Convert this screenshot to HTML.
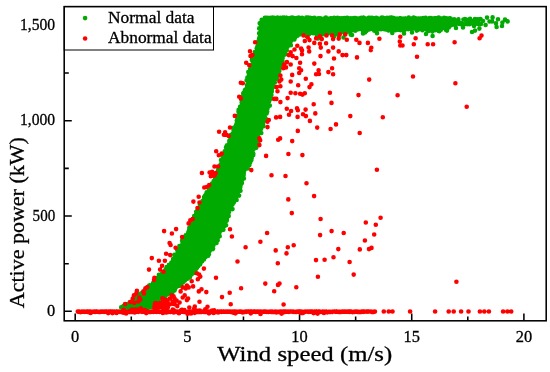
<!DOCTYPE html>
<html lang="en">
<head>
<meta charset="utf-8">
<title>Wind speed vs active power</title>
<style>
html,body{margin:0;padding:0;background:#fff;}
body{width:550px;height:372px;overflow:hidden;}
svg{display:block;}
text{font-family:"Liberation Serif", "DejaVu Serif", serif;fill:#000;stroke:#000;stroke-width:0.3px;}
</style>
</head>
<body>
<svg width="550" height="372" viewBox="0 0 550 372">
<rect width="550" height="372" fill="#fff"/>
<g fill="none" stroke="#000" stroke-width="1.55">
<path d="M75.20 320.80V313.60M187.38 320.80V313.60M299.55 320.80V313.60M411.72 320.80V313.60M523.90 320.80V313.60M131.29 320.80V316.50M243.46 320.80V316.50M355.64 320.80V316.50M467.81 320.80V316.50M64.20 311.30H71.80M64.20 216.00H71.80M64.20 120.70H71.80M64.20 25.40H71.80M64.20 263.65H68.80M64.20 168.35H68.80M64.20 73.05H68.80"/>
</g>
<g id="normal">
<polygon points="264.8,20.0 263.4,22.0 263.2,24.0 263.0,26.0 262.8,28.0 262.6,30.0 262.4,32.0 262.2,34.0 261.8,36.0 261.3,38.0 260.8,40.0 260.3,42.0 259.8,44.0 259.2,46.0 258.7,48.0 258.2,50.0 257.7,52.0 257.1,54.0 256.6,56.0 256.0,58.0 255.4,60.0 254.8,62.0 254.2,64.0 253.6,66.0 253.0,68.0 252.5,70.0 251.9,72.0 251.4,74.0 250.9,76.0 250.4,78.0 249.9,80.0 249.4,82.0 248.9,84.0 248.5,86.0 248.0,88.0 247.5,90.0 247.0,92.0 246.6,94.0 246.1,96.0 245.7,98.0 245.2,100.0 244.6,102.0 243.9,104.0 243.3,106.0 242.6,108.0 242.0,110.0 241.3,112.0 240.7,114.0 240.0,116.0 239.4,118.0 238.7,120.0 238.0,122.0 237.4,124.0 236.7,126.0 236.0,128.0 235.4,130.0 234.7,132.0 234.0,134.0 233.4,136.0 232.7,138.0 232.0,140.0 231.3,142.0 230.6,144.0 229.9,146.0 229.2,148.0 228.5,150.0 227.8,152.0 226.9,154.0 226.0,156.0 225.0,158.0 224.1,160.0 223.3,162.0 222.6,164.0 221.8,166.0 221.1,168.0 220.2,170.0 219.4,172.0 218.5,174.0 217.6,176.0 216.8,178.0 215.9,180.0 214.9,182.0 213.8,184.0 212.8,186.0 211.8,188.0 210.7,190.0 209.5,192.0 208.3,194.0 207.2,196.0 206.2,198.0 205.4,200.0 204.6,202.0 203.7,204.0 202.9,206.0 201.9,208.0 200.8,210.0 199.7,212.0 198.6,214.0 197.6,216.0 196.7,218.0 195.7,220.0 194.8,222.0 193.8,224.0 192.9,226.0 191.9,228.0 191.0,230.0 190.0,232.0 189.1,234.0 188.1,236.0 187.2,238.0 186.1,240.0 185.0,242.0 183.9,244.0 182.8,246.0 181.7,248.0 180.5,250.0 179.4,252.0 178.3,254.0 177.2,256.0 176.1,258.0 175.0,260.0 173.3,262.0 171.6,264.0 169.9,266.0 168.2,268.0 166.5,270.0 164.8,272.0 163.0,274.0 161.3,276.0 159.6,278.0 157.9,280.0 155.9,282.0 153.7,284.0 151.6,286.0 149.4,288.0 147.2,290.0 145.1,292.0 142.9,294.0 140.8,296.0 138.6,298.0 135.2,300.0 131.9,302.0 128.5,304.0 125.2,306.0 147.0,308.0 149.8,306.0 152.7,304.0 155.5,302.0 158.4,300.0 161.2,298.0 164.1,296.0 166.9,294.0 169.6,292.0 172.0,290.0 174.4,288.0 176.8,286.0 179.2,284.0 181.5,282.0 183.9,280.0 186.0,278.0 187.8,276.0 189.7,274.0 191.5,272.0 193.4,270.0 195.2,268.0 197.0,266.0 198.8,264.0 200.2,262.0 201.7,260.0 203.1,258.0 204.6,256.0 206.0,254.0 207.5,252.0 208.9,250.0 210.1,248.0 211.2,246.0 212.3,244.0 213.4,242.0 214.5,240.0 215.5,238.0 216.6,236.0 217.8,234.0 218.9,232.0 220.0,230.0 221.2,228.0 222.3,226.0 223.1,224.0 223.9,222.0 224.7,220.0 225.4,218.0 226.2,216.0 227.0,214.0 227.8,212.0 228.6,210.0 229.3,208.0 230.0,206.0 230.7,204.0 231.7,202.0 233.0,200.0 234.3,198.0 235.4,196.0 236.1,194.0 236.8,192.0 237.6,190.0 238.3,188.0 239.1,186.0 239.8,184.0 240.3,182.0 240.7,180.0 241.2,178.0 241.6,176.0 242.1,174.0 242.6,172.0 243.3,170.0 244.3,168.0 245.3,166.0 246.4,164.0 247.4,162.0 248.3,160.0 249.0,158.0 249.7,156.0 250.4,154.0 251.2,152.0 251.9,150.0 252.6,148.0 253.2,146.0 253.9,144.0 254.6,142.0 255.3,140.0 255.9,138.0 256.6,136.0 257.3,134.0 257.9,132.0 258.6,130.0 259.2,128.0 259.9,126.0 260.6,124.0 261.2,122.0 261.9,120.0 262.5,118.0 263.2,116.0 263.9,114.0 264.4,112.0 265.0,110.0 265.5,108.0 266.1,106.0 266.7,104.0 267.2,102.0 267.8,100.0 268.3,98.0 268.9,96.0 269.4,94.0 270.0,92.0 270.5,90.0 271.0,88.0 271.5,86.0 272.1,84.0 272.6,82.0 273.1,80.0 273.6,78.0 274.1,76.0 274.8,74.0 275.5,72.0 276.3,70.0 277.0,68.0 277.8,66.0 278.5,64.0 279.2,62.0 280.0,60.0 280.7,58.0 281.5,56.0 282.2,54.0 283.4,52.0 284.6,50.0 285.7,48.0 286.9,46.0 288.1,44.0 289.3,42.0 290.6,40.0 293.0,38.0 295.3,36.0" fill="#00aa00"/>
<path d="M266.2 18.0h0M265.3 19.1h0M264.2 20.2h0M262.9 21.3h0M262.6 22.4h0M262.8 23.5h0M262.3 24.6h0M262.6 25.7h0M262.4 26.8h0M262.2 27.9h0M262.0 29.0h0M261.9 30.1h0M261.7 31.2h0M261.7 32.3h0M261.7 33.4h0M261.6 34.5h0M297.8 34.5h0M261.5 35.6h0M296.4 35.6h0M261.3 36.7h0M294.9 36.7h0M260.6 37.8h0M293.8 37.8h0M260.3 38.9h0M292.3 38.9h0M260.2 40.0h0M291.2 40.0h0M260.1 41.1h0M290.5 41.1h0M259.6 42.2h0M289.8 42.2h0M259.2 43.3h0M288.9 43.3h0M258.9 44.4h0M288.6 44.4h0M258.6 45.5h0M287.8 45.5h0M258.2 46.6h0M287.3 46.6h0M258.0 47.7h0M286.4 47.7h0M258.1 48.8h0M285.9 48.8h0M257.8 49.9h0M285.3 49.9h0M257.5 51.0h0M284.4 51.0h0M257.1 52.1h0M283.9 52.1h0M256.9 53.2h0M283.2 53.2h0M256.5 54.3h0M282.5 54.3h0M256.1 55.4h0M282.2 55.4h0M255.6 56.5h0M282.1 56.5h0M255.4 57.6h0M281.7 57.6h0M255.2 58.7h0M281.1 58.7h0M254.9 59.8h0M280.8 59.8h0M254.3 60.9h0M280.2 60.9h0M254.1 62.0h0M279.8 62.0h0M253.7 63.1h0M279.7 63.1h0M253.4 64.2h0M279.1 64.2h0M253.1 65.3h0M278.8 65.3h0M253.0 66.4h0M278.0 66.4h0M252.8 67.5h0M278.0 67.5h0M252.5 68.6h0M277.4 68.6h0M251.8 69.7h0M276.8 69.7h0M251.8 70.8h0M276.6 70.8h0M251.1 71.9h0M276.4 71.9h0M251.1 73.0h0M275.8 73.0h0M250.7 74.1h0M275.3 74.1h0M250.3 75.2h0M274.7 75.2h0M250.4 76.3h0M274.6 76.3h0M250.0 77.4h0M274.3 77.4h0M249.8 78.5h0M273.8 78.5h0M249.3 79.6h0M273.6 79.6h0M249.0 80.7h0M273.7 80.7h0M249.0 81.8h0M273.2 81.8h0M248.6 82.9h0M273.1 82.9h0M248.3 84.0h0M272.7 84.0h0M248.2 85.1h0M272.3 85.1h0M247.8 86.2h0M272.2 86.2h0M247.8 87.3h0M271.6 87.3h0M247.5 88.4h0M271.3 88.4h0M247.1 89.5h0M271.4 89.5h0M246.6 90.6h0M270.9 90.6h0M246.7 91.7h0M270.4 91.7h0M246.3 92.8h0M270.5 92.8h0M246.0 93.9h0M270.2 93.9h0M245.6 95.0h0M269.6 95.0h0M245.4 96.1h0M269.3 96.1h0M245.2 97.2h0M269.4 97.2h0M245.0 98.3h0M268.8 98.3h0M244.6 99.4h0M268.8 99.4h0M244.4 100.5h0M268.5 100.5h0M244.1 101.6h0M268.0 101.6h0M243.9 102.7h0M267.8 102.7h0M243.4 103.8h0M267.3 103.8h0M243.2 104.9h0M267.0 104.9h0M242.9 106.0h0M266.5 106.0h0M242.3 107.1h0M266.4 107.1h0M242.2 108.2h0M266.0 108.2h0M241.7 109.3h0M265.9 109.3h0M241.3 110.4h0M265.5 110.4h0M241.1 111.5h0M265.1 111.5h0M240.5 112.6h0M264.7 112.6h0M239.9 113.7h0M264.4 113.7h0M240.0 114.8h0M264.4 114.8h0M239.3 115.9h0M263.9 115.9h0M239.1 117.0h0M263.5 117.0h0M238.8 118.1h0M263.0 118.1h0M238.6 119.2h0M262.7 119.2h0M238.1 120.3h0M262.5 120.3h0M237.5 121.4h0M261.8 121.4h0M237.2 122.5h0M261.8 122.5h0M237.1 123.6h0M261.4 123.6h0M236.3 124.7h0M261.1 124.7h0M236.3 125.8h0M260.8 125.8h0M235.8 126.9h0M260.4 126.9h0M235.2 128.0h0M259.6 128.0h0M234.8 129.1h0M259.4 129.1h0M234.6 130.2h0M259.0 130.2h0M234.4 131.3h0M258.5 131.3h0M234.0 132.4h0M258.2 132.4h0M233.7 133.5h0M257.8 133.5h0M233.1 134.6h0M257.9 134.6h0M232.9 135.7h0M257.4 135.7h0M232.6 136.8h0M257.0 136.8h0M232.0 137.9h0M256.6 137.9h0M231.5 139.0h0M256.3 139.0h0M231.6 140.1h0M256.0 140.1h0M230.8 141.2h0M255.4 141.2h0M230.6 142.3h0M254.9 142.3h0M230.3 143.4h0M254.9 143.4h0M229.8 144.5h0M254.5 144.5h0M229.6 145.6h0M253.8 145.6h0M229.2 146.7h0M253.8 146.7h0M228.6 147.8h0M253.3 147.8h0M228.4 148.9h0M252.9 148.9h0M227.7 150.0h0M252.6 150.0h0M227.6 151.1h0M252.3 151.1h0M227.3 152.2h0M251.6 152.2h0M226.8 153.3h0M251.5 153.3h0M226.3 154.4h0M250.7 154.4h0M225.4 155.5h0M250.6 155.5h0M224.9 156.6h0M250.1 156.6h0M224.8 157.7h0M249.6 157.7h0M223.9 158.8h0M249.3 158.8h0M223.6 159.9h0M248.7 159.9h0M223.1 161.0h0M248.3 161.0h0M222.8 162.1h0M248.1 162.1h0M222.2 163.2h0M247.3 163.2h0M221.9 164.3h0M246.7 164.3h0M221.3 165.4h0M246.2 165.4h0M221.0 166.5h0M245.5 166.5h0M220.8 167.6h0M245.2 167.6h0M220.1 168.7h0M244.4 168.7h0M219.8 169.8h0M243.8 169.8h0M219.0 170.9h0M243.3 170.9h0M218.5 172.0h0M243.4 172.0h0M218.2 173.1h0M242.8 173.1h0M218.0 174.2h0M242.7 174.2h0M217.2 175.3h0M242.4 175.3h0M217.1 176.4h0M242.1 176.4h0M216.5 177.5h0M241.7 177.5h0M216.0 178.6h0M241.8 178.6h0M215.6 179.7h0M241.5 179.7h0M214.8 180.8h0M240.9 180.8h0M214.3 181.9h0M241.0 181.9h0M213.6 183.0h0M240.5 183.0h0M213.2 184.1h0M240.5 184.1h0M212.8 185.2h0M239.8 185.2h0M211.9 186.3h0M239.7 186.3h0M211.6 187.4h0M239.3 187.4h0M211.2 188.5h0M239.0 188.5h0M210.5 189.6h0M238.5 189.6h0M209.6 190.7h0M238.0 190.7h0M208.9 191.8h0M237.6 191.8h0M208.5 192.9h0M237.2 192.9h0M207.7 194.0h0M236.6 194.0h0M207.1 195.1h0M236.1 195.1h0M206.6 196.2h0M235.9 196.2h0M205.8 197.3h0M235.4 197.3h0M205.6 198.4h0M234.6 198.4h0M205.2 199.5h0M234.1 199.5h0M204.5 200.6h0M233.0 200.6h0M204.2 201.7h0M232.7 201.7h0M203.4 202.8h0M231.8 202.8h0M203.3 203.9h0M231.5 203.9h0M202.5 205.0h0M230.7 205.0h0M202.5 206.1h0M230.3 206.1h0M201.6 207.2h0M230.2 207.2h0M201.1 208.3h0M229.9 208.3h0M200.4 209.4h0M229.6 209.4h0M199.8 210.5h0M229.1 210.5h0M199.1 211.6h0M228.6 211.6h0M198.5 212.7h0M228.0 212.7h0M198.0 213.8h0M227.8 213.8h0M197.5 214.9h0M227.0 214.9h0M197.3 216.0h0M227.0 216.0h0M196.7 217.1h0M226.3 217.1h0M195.9 218.2h0M225.8 218.2h0M195.3 219.3h0M225.3 219.3h0M194.9 220.4h0M224.9 220.4h0M194.2 221.5h0M224.9 221.5h0M193.9 222.6h0M224.1 222.6h0M193.4 223.7h0M223.7 223.7h0M192.8 224.8h0M223.3 224.8h0M192.3 225.9h0M223.0 225.9h0M191.8 227.0h0M222.3 227.0h0M191.4 228.1h0M221.9 228.1h0M190.6 229.2h0M220.9 229.2h0M190.0 230.3h0M220.7 230.3h0M189.9 231.4h0M219.7 231.4h0M189.4 232.5h0M219.1 232.5h0M188.7 233.6h0M218.6 233.6h0M188.4 234.7h0M217.7 234.7h0M187.5 235.8h0M217.4 235.8h0M186.9 236.9h0M216.6 236.9h0M186.6 238.0h0M216.3 238.0h0M186.1 239.1h0M215.7 239.1h0M185.5 240.2h0M215.0 240.2h0M184.9 241.3h0M214.4 241.3h0M184.3 242.4h0M213.6 242.4h0M183.4 243.5h0M213.3 243.5h0M182.8 244.6h0M212.7 244.6h0M182.4 245.7h0M211.8 245.7h0M181.9 246.8h0M211.2 246.8h0M181.1 247.9h0M210.5 247.9h0M180.7 249.0h0M210.2 249.0h0M180.0 250.1h0M209.3 250.1h0M179.4 251.2h0M208.7 251.2h0M178.7 252.3h0M208.1 252.3h0M178.0 253.4h0M207.0 253.4h0M177.5 254.5h0M206.4 254.5h0M176.8 255.6h0M205.5 255.6h0M176.1 256.7h0M204.7 256.7h0M175.8 257.8h0M203.6 257.8h0M175.1 258.9h0M202.8 258.9h0M174.6 260.0h0M202.3 260.0h0M173.4 261.1h0M201.6 261.1h0M172.5 262.2h0M200.8 262.2h0M171.4 263.3h0M199.9 263.3h0M170.7 264.4h0M199.3 264.4h0M169.5 265.5h0M198.1 265.5h0M168.8 266.6h0M197.1 266.6h0M167.6 267.7h0M196.1 267.7h0M166.7 268.8h0M194.9 268.8h0M166.1 269.9h0M193.9 269.9h0M165.0 271.0h0M193.2 271.0h0M164.2 272.1h0M192.1 272.1h0M163.3 273.2h0M191.0 273.2h0M162.3 274.3h0M190.2 274.3h0M161.3 275.4h0M189.1 275.4h0M160.3 276.5h0M188.0 276.5h0M159.3 277.6h0M187.1 277.6h0M158.4 278.7h0M186.0 278.7h0M157.6 279.8h0M184.8 279.8h0M156.4 280.9h0M183.6 280.9h0M155.2 282.0h0M182.3 282.0h0M154.2 283.1h0M180.8 283.1h0M153.0 284.2h0M179.3 284.2h0M151.7 285.3h0M178.4 285.3h0M150.6 286.4h0M176.9 286.4h0M149.4 287.5h0M175.7 287.5h0M148.2 288.6h0M174.2 288.6h0M146.8 289.7h0M172.9 289.7h0M145.7 290.8h0M171.6 290.8h0M144.8 291.9h0M170.3 291.9h0M143.4 293.0h0M168.9 293.0h0M142.3 294.1h0M167.6 294.1h0M141.2 295.2h0M165.7 295.2h0M139.7 296.3h0M164.4 296.3h0M138.6 297.4h0M162.8 297.4h0M136.9 298.5h0M161.3 298.5h0M135.2 299.6h0M159.5 299.6h0M133.3 300.7h0M157.9 300.7h0M131.8 301.8h0M156.6 301.8h0M129.8 302.9h0M155.0 302.9h0M127.9 304.0h0M153.2 304.0h0M126.1 305.1h0M151.6 305.1h0M124.2 306.2h0M150.3 306.2h0M122.5 307.3h0M148.4 307.3h0M147.1 308.4h0M175.6 254.8h0M226.0 147.4h0M259.6 37.0h0M194.2 216.0h0M244.9 90.0h0M199.9 204.6h0M233.6 127.7h0M202.3 202.8h0M243.2 93.5h0M222.6 156.5h0M218.0 170.4h0M202.5 201.0h0M247.4 77.6h0M137.8 296.6h0M241.7 102.4h0M241.0 107.3h0M243.7 92.9h0M259.1 38.5h0M229.3 141.0h0M183.0 241.7h0M191.0 223.7h0M248.8 75.4h0M253.6 58.5h0M238.5 111.7h0M182.1 240.6h0M222.5 159.8h0M150.1 285.3h0M198.4 208.4h0M204.0 198.1h0M182.7 240.5h0M185.7 235.4h0M237.4 118.2h0M244.0 93.1h0M227.1 145.3h0M221.0 160.1h0M251.9 59.9h0M226.6 146.3h0M200.8 203.6h0M252.6 58.2h0M252.2 58.8h0M250.0 69.1h0M241.7 100.7h0M138.1 296.5h0M261.2 26.4h0M248.7 72.0h0M251.0 66.6h0M223.4 155.8h0M259.7 23.3h0M224.7 151.2h0M251.8 66.0h0M243.2 96.8h0M179.9 247.6h0M248.3 72.1h0M204.1 197.0h0M231.4 136.2h0M230.3 139.5h0M174.3 254.7h0M251.2 65.4h0M149.2 285.5h0M158.6 276.8h0M196.2 211.8h0M259.1 33.3h0M198.6 210.4h0M206.7 192.2h0M182.4 241.8h0M248.1 80.7h0M139.8 294.0h0M158.9 274.7h0M254.8 52.0h0M238.6 109.9h0M259.2 28.4h0M173.2 258.7h0M153.1 283.0h0M125.1 304.6h0M205.1 195.5h0M197.1 211.1h0M195.8 214.7h0M212.0 183.5h0M140.7 293.8h0M206.1 194.4h0M237.5 115.9h0M218.2 167.0h0M260.6 24.4h0M189.3 227.9h0M192.7 219.2h0M229.5 140.5h0M169.0 264.7h0M184.3 237.0h0M237.4 116.1h0M258.3 41.4h0M253.4 57.1h0M248.7 72.2h0M240.1 106.7h0M226.6 148.1h0M148.5 286.7h0M242.8 99.3h0M156.0 278.2h0M196.0 215.3h0M168.8 265.2h0M230.1 135.3h0M261.7 19.9h0M179.4 246.0h0M245.6 89.8h0M253.6 60.1h0M177.1 249.7h0M194.1 217.0h0M246.6 80.3h0M243.4 96.2h0M145.5 290.0h0M242.5 96.5h0M274.8 82.6h0M247.7 168.5h0M243.9 178.5h0M217.6 238.8h0M253.2 155.1h0M277.6 74.4h0M260.3 132.2h0M156.4 303.1h0M217.7 240.2h0M279.4 67.6h0M208.2 255.8h0M263.4 120.6h0M213.1 248.5h0M294.4 39.5h0M193.9 273.0h0M274.7 80.1h0M251.4 160.0h0M228.7 216.0h0M243.7 174.1h0M274.5 81.0h0M278.5 73.8h0M266.6 113.4h0M286.8 50.3h0M271.4 94.9h0M278.8 71.4h0M250.2 162.4h0M261.3 133.0h0M239.1 195.6h0M266.9 112.4h0M290.9 45.2h0M263.2 126.1h0M216.7 241.4h0M269.8 105.6h0M256.9 146.0h0M215.5 241.4h0M255.8 146.6h0M189.9 277.3h0M179.3 285.7h0M265.4 120.5h0M219.7 236.2h0M268.1 104.8h0M276.6 74.0h0M252.4 155.1h0M236.6 199.9h0M174.5 290.5h0M277.8 75.7h0M223.4 229.8h0M249.3 165.3h0M279.0 71.8h0M159.9 300.6h0M226.1 225.2h0M279.3 71.0h0M182.9 282.4h0M281.5 64.0h0M282.5 61.2h0M263.4 126.2h0M172.7 291.1h0M289.8 45.0h0M179.6 285.8h0M233.8 202.4h0M285.6 54.2h0M240.5 190.7h0M250.5 160.8h0M239.5 189.4h0M218.3 236.5h0M226.8 220.6h0M150.7 307.2h0M277.1 78.6h0M205.6 257.1h0M256.2 147.8h0M212.9 249.1h0M187.7 278.6h0M152.1 305.8h0M267.5 108.4h0M251.3 159.2h0M172.4 292.4h0M171.6 293.2h0M258.0 137.4h0M171.6 291.7h0M256.3 146.4h0M257.8 137.9h0M216.3 241.8h0M249.3 164.2h0M251.7 157.9h0M258.6 141.0h0M253.3 153.7h0M278.1 74.0h0M285.2 52.6h0M216.5 241.1h0M239.6 189.5h0M227.0 218.8h0M208.9 254.2h0M271.3 98.6h0M269.6 99.6h0M267.2 111.6h0M265.8 118.7h0M216.5 242.9h0M257.6 137.8h0M263.1 123.9h0M232.5 209.1h0M274.0 86.7h0M280.8 64.9h0M225.2 225.6h0M215.2 241.8h0M264.7 116.6h0M264.9 17.7h0M266.9 18.3h0M268.9 18.2h0M270.6 17.7h0M272.6 17.5h0M274.2 17.7h0M275.7 18.5h0M277.5 17.6h0M279.1 18.2h0M280.5 17.8h0M282.2 18.0h0M284.3 18.0h0M285.9 18.2h0M287.5 18.4h0M290.1 18.0h0M291.3 18.4h0M292.8 18.3h0M294.6 18.2h0M296.4 18.1h0M298.7 17.6h0M300.3 18.0h0M263.7 19.5h0M265.1 19.4h0M267.4 19.2h0M269.1 20.1h0M271.2 20.0h0M272.7 19.3h0M274.6 19.3h0M276.2 20.0h0M277.7 19.6h0M279.0 19.6h0M280.8 19.2h0M282.4 19.9h0M284.9 19.2h0M285.7 19.4h0M287.6 19.3h0M289.7 19.5h0M291.3 19.3h0M293.3 19.4h0M294.7 19.6h0M297.0 19.3h0M298.5 19.4h0M300.4 19.5h0M262.3 21.6h0M264.2 20.8h0M265.3 21.7h0M267.0 21.0h0M269.6 20.7h0M270.5 20.9h0M272.2 21.2h0M274.4 21.0h0M275.6 21.5h0M278.0 21.3h0M279.1 21.2h0M281.3 21.1h0M283.2 21.1h0M284.6 20.8h0M286.3 21.5h0M288.2 21.0h0M290.2 21.4h0M291.4 21.1h0M293.4 20.9h0M295.0 21.4h0M296.6 21.6h0M298.3 21.2h0M299.8 21.6h0M261.7 23.0h0M263.5 23.2h0M265.8 22.3h0M267.6 22.9h0M268.4 22.8h0M270.1 22.8h0M272.0 22.7h0M273.8 22.9h0M276.1 23.2h0M277.3 22.9h0M278.7 22.7h0M281.4 22.4h0M283.0 23.0h0M284.2 23.1h0M285.9 23.2h0M287.5 22.4h0M289.9 22.7h0M291.0 22.8h0M292.9 22.8h0M295.0 23.2h0M296.1 22.9h0M298.8 22.8h0M300.3 22.4h0M262.1 24.5h0M263.8 24.7h0M265.6 24.0h0M267.2 24.1h0M268.4 24.2h0M270.5 24.5h0M272.6 23.9h0M273.6 24.3h0M276.0 24.4h0M277.4 24.7h0M279.3 24.2h0M280.4 24.4h0M283.0 24.5h0M283.9 24.3h0M286.0 24.5h0M287.9 24.9h0M289.4 24.3h0M291.4 24.8h0M293.2 24.4h0M295.1 24.4h0M297.0 24.2h0M297.9 24.7h0M299.8 24.7h0M261.7 26.0h0M262.9 26.3h0M264.6 26.5h0M267.2 25.8h0M268.2 26.4h0M270.3 25.6h0M272.0 25.7h0M273.7 26.1h0M276.0 26.3h0M277.0 26.0h0M279.0 26.5h0M280.4 26.0h0M282.9 25.9h0M284.0 26.1h0M285.8 26.4h0M287.4 25.7h0M289.1 26.2h0M291.1 26.4h0M293.4 26.4h0M294.5 25.5h0M296.4 26.5h0M298.5 25.6h0M300.2 26.4h0M261.9 27.8h0M263.5 27.9h0M264.8 27.2h0M266.9 27.2h0M268.3 28.1h0M270.2 27.6h0M272.4 27.4h0M274.2 28.0h0M275.3 27.4h0M276.8 28.0h0M278.6 27.1h0M281.1 27.7h0M282.6 27.8h0M283.8 27.2h0M286.0 27.2h0M287.7 27.8h0M289.6 27.7h0M290.8 27.3h0M293.4 27.2h0M294.8 27.2h0M296.9 27.3h0M298.2 27.6h0M300.2 28.0h0M261.5 29.0h0M262.6 29.4h0M265.3 28.7h0M266.8 28.9h0M268.3 29.2h0M270.2 29.7h0M272.0 29.1h0M273.8 29.2h0M275.3 29.1h0M277.1 29.0h0M278.6 28.8h0M280.6 29.0h0M282.7 29.5h0M284.0 29.3h0M286.3 29.1h0M287.7 29.1h0M289.6 29.7h0M290.8 29.7h0M293.1 29.5h0M294.9 29.6h0M296.3 29.4h0M298.0 29.2h0M300.2 28.9h0M260.7 31.1h0M263.2 31.0h0M264.5 31.0h0M266.0 31.0h0M268.3 30.9h0M269.9 30.5h0M271.9 30.8h0M273.7 30.7h0M274.8 30.8h0M277.1 31.2h0M279.2 30.4h0M280.8 30.6h0M282.5 30.7h0M283.9 30.8h0M285.9 31.0h0M287.8 31.0h0M289.3 31.0h0M291.0 30.9h0M292.9 30.9h0M294.2 30.8h0M296.2 30.7h0M297.8 31.0h0M300.4 30.7h0M260.6 32.5h0M262.4 32.8h0M264.1 32.3h0M266.3 32.0h0M267.9 32.2h0M270.0 32.9h0M271.5 32.7h0M273.0 32.5h0M275.1 32.2h0M277.2 32.6h0M278.3 32.2h0M280.8 32.9h0M282.4 32.8h0M284.5 32.6h0M285.9 32.1h0M287.4 32.5h0M289.8 32.2h0M291.0 31.9h0M293.1 32.3h0M295.0 32.1h0M296.6 32.6h0M298.2 32.1h0M299.9 32.6h0M260.5 33.6h0M262.5 33.7h0M264.5 34.3h0M266.4 34.3h0M267.8 33.7h0M269.6 34.2h0M271.3 34.2h0M273.1 33.8h0M274.6 34.0h0M276.0 33.8h0M277.5 34.0h0M279.4 33.9h0M281.6 34.2h0M283.1 34.5h0M284.4 34.0h0M286.0 33.9h0M288.5 33.6h0M290.0 34.4h0M291.5 34.3h0M293.1 33.9h0M294.9 33.7h0M296.4 33.8h0M298.8 33.8h0M299.7 34.4h0M260.2 36.1h0M262.6 35.7h0M264.0 35.3h0M265.4 35.2h0M267.4 35.5h0M269.7 35.6h0M271.5 35.8h0M272.4 35.7h0M274.1 35.1h0M276.7 35.4h0M277.6 35.2h0M279.9 35.6h0M281.0 35.8h0M282.9 35.9h0M284.9 35.6h0M286.6 35.8h0M288.9 35.9h0M289.7 35.6h0M291.6 35.2h0M293.3 35.3h0M295.8 35.8h0M297.5 35.8h0M259.9 37.1h0M261.8 37.0h0M263.6 37.5h0M265.0 37.0h0M267.1 37.4h0M269.1 37.4h0M270.3 36.9h0M272.2 37.0h0M274.4 37.7h0M276.1 36.7h0M277.5 37.5h0M279.9 37.3h0M281.1 37.1h0M283.1 37.6h0M284.6 36.9h0M286.0 36.8h0M288.6 37.3h0M290.5 36.8h0M291.6 37.5h0M293.7 36.8h0M295.2 37.3h0M259.9 38.8h0M261.2 39.3h0M263.2 39.0h0M265.1 38.4h0M266.5 38.4h0M268.3 38.5h0M270.3 38.6h0M272.0 39.1h0M273.4 38.4h0M276.0 38.8h0M277.4 38.6h0M279.3 38.5h0M281.4 39.1h0M282.6 38.3h0M284.9 38.6h0M286.5 39.2h0M288.4 39.2h0M289.9 39.1h0M291.6 38.6h0M293.4 38.6h0M259.6 40.7h0M260.6 40.1h0M262.6 40.4h0M264.9 40.8h0M266.6 40.6h0M268.0 40.2h0M269.4 39.9h0M271.5 40.2h0M272.5 40.2h0M274.4 40.6h0M275.8 40.1h0M278.4 40.8h0M279.9 40.5h0M281.1 40.8h0M283.4 40.4h0M284.5 40.1h0M286.4 40.2h0M287.8 40.3h0M289.9 40.2h0M291.5 40.2h0M258.8 42.1h0M260.6 41.7h0M262.7 42.0h0M264.1 42.2h0M266.2 42.3h0M268.0 42.2h0M269.7 41.7h0M271.4 41.8h0M272.8 41.6h0M274.7 41.5h0M276.7 42.2h0M278.6 41.6h0M280.2 42.3h0M281.4 41.7h0M283.4 42.0h0M285.1 42.0h0M287.0 42.2h0M289.0 42.2h0M290.4 42.2h0M258.7 43.8h0M259.8 44.0h0M262.0 43.4h0M263.6 43.6h0M265.4 43.3h0M266.9 43.5h0M269.2 43.5h0M270.2 43.6h0M272.1 43.1h0M274.6 43.4h0M275.9 43.5h0M277.1 44.0h0M279.8 43.3h0M281.0 43.5h0M282.5 43.8h0M284.8 43.9h0M286.4 43.1h0M287.7 43.6h0M289.9 43.5h0M258.0 45.5h0M259.3 45.0h0M261.2 45.7h0M262.9 44.7h0M264.8 45.3h0M266.2 45.5h0M268.0 45.4h0M269.7 45.6h0M271.4 45.4h0M273.8 45.0h0M274.7 45.3h0M276.8 45.2h0M278.8 45.2h0M280.3 45.2h0M281.9 45.1h0M283.3 45.0h0M285.1 44.9h0M287.4 44.8h0M288.5 45.2h0M257.4 46.5h0M259.3 46.8h0M261.4 47.3h0M263.3 46.7h0M264.7 46.7h0M266.3 47.3h0M267.9 46.5h0M270.2 46.9h0M271.6 47.2h0M273.5 46.9h0M275.0 47.2h0M276.8 46.7h0M279.3 47.2h0M281.1 47.1h0M282.2 46.3h0M284.2 46.4h0M286.5 46.3h0M287.7 46.5h0M256.7 48.4h0M258.5 48.8h0M260.9 48.3h0M262.8 48.7h0M264.0 48.7h0M266.4 48.5h0M267.5 48.8h0M269.9 48.2h0M270.8 48.8h0M273.1 48.1h0M274.7 48.2h0M276.8 48.2h0M277.9 47.9h0M279.8 48.9h0M281.4 48.4h0M283.9 47.9h0M284.9 48.7h0M286.5 48.8h0M257.1 49.6h0M258.6 50.1h0M260.4 49.8h0M261.8 49.7h0M263.4 49.7h0M265.8 50.4h0M266.9 50.2h0M268.8 49.8h0M270.4 50.5h0M272.1 50.1h0M274.4 49.8h0M276.0 49.6h0M277.6 50.3h0M279.4 50.5h0M281.0 50.5h0M282.3 50.0h0M284.0 49.6h0M285.9 50.2h0M256.7 51.1h0M258.6 51.3h0M259.7 51.9h0M262.1 51.8h0M263.4 51.6h0M265.7 51.5h0M267.4 51.9h0M268.9 52.0h0M270.6 51.8h0M272.6 51.4h0M274.3 51.7h0M276.1 51.2h0M278.3 52.1h0M279.2 52.0h0M281.5 51.2h0M283.5 51.5h0M285.2 51.9h0M256.0 52.7h0M258.0 53.4h0M259.9 53.0h0M261.5 53.6h0M262.8 53.1h0M264.6 52.7h0M266.2 53.0h0M267.9 53.5h0M269.9 53.3h0M271.5 53.1h0M273.8 53.2h0M275.4 53.1h0M277.1 53.6h0M278.6 53.2h0M280.7 52.8h0M282.8 53.2h0M283.8 53.5h0M255.8 54.9h0M257.7 54.4h0M259.0 55.0h0M261.1 54.9h0M262.6 54.7h0M264.3 54.9h0M266.3 55.1h0M267.9 55.2h0M269.0 55.1h0M271.1 55.1h0M272.7 54.8h0M275.0 54.3h0M276.2 54.8h0M278.5 54.6h0M280.2 54.5h0M281.4 54.9h0M283.5 55.2h0M255.4 56.2h0M257.0 56.5h0M258.4 56.7h0M260.6 56.4h0M262.4 56.0h0M263.4 56.7h0M265.2 56.5h0M267.2 56.0h0M269.1 56.6h0M270.3 56.2h0M272.6 56.8h0M274.4 56.4h0M275.7 56.3h0M277.2 56.4h0M279.0 56.1h0M280.9 56.0h0M282.7 56.6h0M254.7 58.5h0M256.7 58.1h0M258.4 57.9h0M260.0 57.8h0M261.5 58.5h0M263.3 58.0h0M265.2 57.8h0M267.0 57.5h0M268.1 57.7h0M269.8 58.4h0M271.3 57.8h0M273.6 58.2h0M275.5 57.9h0M276.7 58.4h0M278.3 57.6h0M280.1 58.0h0M282.6 58.2h0M254.2 59.6h0M256.0 59.7h0M257.4 59.2h0M258.9 59.9h0M261.1 59.9h0M262.2 60.0h0M264.3 60.0h0M266.2 59.6h0M268.1 59.7h0M269.7 59.3h0M271.4 59.5h0M272.5 59.2h0M274.7 59.4h0M276.7 59.2h0M277.6 60.1h0M279.6 59.6h0M281.3 59.3h0M253.5 61.5h0M254.9 61.5h0M257.5 61.3h0M258.6 60.9h0M260.1 61.0h0M262.5 60.7h0M264.2 61.4h0M265.1 60.8h0M267.5 61.4h0M268.8 61.6h0M270.4 61.1h0M272.0 61.3h0M273.7 60.9h0M276.1 61.2h0M277.7 61.4h0M279.3 60.9h0M281.1 60.8h0M252.9 62.7h0M254.6 62.4h0M256.9 63.0h0M258.5 62.7h0M260.1 62.8h0M262.3 63.2h0M263.6 63.2h0M266.3 62.6h0M267.9 63.1h0M269.6 62.6h0M271.4 63.2h0M272.7 62.8h0M274.4 63.1h0M277.0 62.3h0M278.8 63.0h0M280.0 62.8h0M252.9 64.2h0M254.5 64.9h0M256.4 64.4h0M257.7 64.0h0M260.3 64.6h0M262.1 64.5h0M263.6 64.4h0M265.6 64.2h0M267.1 64.4h0M269.1 64.1h0M270.3 64.0h0M272.2 64.8h0M274.6 64.6h0M276.1 64.0h0M277.9 64.8h0M279.8 64.5h0M252.1 65.7h0M254.2 66.0h0M255.7 65.8h0M257.8 65.8h0M259.5 65.8h0M261.5 65.9h0M263.0 66.4h0M265.0 66.2h0M266.4 66.3h0M268.3 66.5h0M270.6 66.2h0M272.3 66.0h0M274.0 65.6h0M276.1 66.3h0M277.0 65.7h0M279.2 66.3h0M251.4 68.1h0M253.4 68.1h0M255.6 67.6h0M257.0 67.2h0M258.5 67.7h0M261.0 68.0h0M262.3 68.0h0M264.1 68.0h0M266.5 67.3h0M268.2 67.8h0M269.8 67.9h0M271.5 67.6h0M273.1 68.0h0M275.4 67.3h0M277.1 67.4h0M278.2 67.3h0M251.4 69.0h0M252.8 68.8h0M254.7 69.5h0M256.2 69.2h0M258.5 68.7h0M260.0 69.6h0M262.5 69.6h0M263.4 69.5h0M265.5 68.9h0M267.3 69.6h0M269.5 69.1h0M270.4 69.6h0M273.1 69.2h0M274.1 69.2h0M276.4 69.2h0M277.8 68.9h0M250.6 70.3h0M252.4 71.3h0M253.9 71.0h0M256.4 70.7h0M258.0 70.5h0M259.8 71.0h0M261.7 70.8h0M263.7 71.2h0M265.1 71.0h0M266.5 71.2h0M268.7 71.2h0M270.1 71.3h0M271.7 70.8h0M273.4 70.5h0M275.9 70.4h0M277.3 70.5h0M250.7 72.0h0M252.0 72.8h0M254.1 72.6h0M256.1 71.9h0M257.6 72.6h0M259.4 72.6h0M260.5 72.0h0M263.0 72.5h0M264.2 71.9h0M266.2 72.0h0M268.2 72.2h0M270.0 72.0h0M271.5 72.0h0M273.5 72.5h0M274.8 72.9h0M277.0 72.2h0M250.3 73.9h0M252.2 73.8h0M253.9 73.6h0M255.4 73.8h0M256.9 74.1h0M258.2 73.7h0M260.1 74.2h0M261.9 74.0h0M263.8 73.7h0M266.1 74.0h0M267.6 74.2h0M269.5 73.8h0M270.5 74.0h0M272.4 73.5h0M274.9 74.1h0M276.1 73.6h0M249.8 75.6h0M251.0 76.1h0M253.5 76.0h0M255.1 75.6h0M256.3 75.8h0M257.9 75.7h0M259.6 75.1h0M261.9 75.4h0M263.7 75.9h0M265.5 75.7h0M267.3 75.8h0M269.1 76.0h0M270.0 75.4h0M272.0 75.4h0M273.6 76.0h0M275.1 75.3h0M249.4 76.9h0M250.7 77.7h0M252.9 77.1h0M254.0 77.0h0M256.6 77.5h0M257.4 77.4h0M259.5 77.4h0M261.1 76.8h0M262.6 77.0h0M265.2 77.6h0M266.7 77.4h0M268.0 77.1h0M270.4 77.7h0M271.7 77.5h0M273.9 77.7h0M275.0 77.4h0M248.7 78.8h0M250.5 78.6h0M251.8 79.1h0M254.2 79.1h0M255.4 78.5h0M257.6 79.2h0M259.2 78.5h0M261.0 79.3h0M263.0 79.2h0M264.3 78.6h0M266.5 79.1h0M268.2 78.7h0M269.4 78.5h0M271.7 79.2h0M272.9 79.2h0M274.7 78.7h0M248.5 80.1h0M249.9 80.2h0M251.6 80.4h0M253.2 80.7h0M255.0 80.3h0M257.2 80.0h0M258.7 80.5h0M260.6 80.8h0M262.5 80.0h0M264.3 80.4h0M265.9 80.1h0M267.4 80.6h0M269.5 80.7h0M270.6 80.7h0M272.7 80.6h0M274.7 80.3h0M248.5 82.4h0M250.1 81.9h0M251.5 81.7h0M253.5 82.4h0M254.6 82.2h0M256.9 81.5h0M258.8 82.0h0M259.9 81.5h0M262.1 81.8h0M263.6 81.7h0M265.4 81.9h0M267.4 82.2h0M269.0 81.8h0M270.1 82.4h0M272.7 82.1h0M274.4 82.2h0M247.8 83.5h0M249.2 83.6h0M250.8 83.5h0M252.8 83.1h0M254.4 83.4h0M256.4 83.9h0M258.1 83.8h0M259.8 83.4h0M261.3 83.9h0M263.6 83.3h0M264.4 84.1h0M267.0 83.7h0M268.7 83.7h0M270.5 83.3h0M271.8 83.8h0M273.3 83.8h0M247.0 85.4h0M249.3 85.1h0M251.2 85.3h0M252.7 84.7h0M253.8 85.4h0M256.3 85.3h0M258.0 84.8h0M259.7 85.6h0M261.2 85.1h0M263.0 84.9h0M264.7 85.4h0M266.3 85.0h0M267.5 84.9h0M270.0 84.9h0M271.0 84.9h0M273.2 85.3h0M247.2 87.2h0M249.1 87.2h0M250.3 86.4h0M252.5 86.5h0M253.9 86.6h0M255.8 86.5h0M257.1 86.5h0M259.3 86.9h0M260.8 86.6h0M262.1 87.2h0M264.4 87.0h0M266.3 86.9h0M267.2 86.9h0M269.1 86.8h0M271.0 86.9h0M273.1 87.1h0M246.4 88.7h0M248.6 88.7h0M250.0 88.8h0M251.6 88.0h0M253.1 88.6h0M255.0 88.3h0M256.7 88.1h0M258.1 87.9h0M260.4 88.2h0M261.9 88.8h0M263.8 88.7h0M265.7 88.9h0M266.7 88.3h0M269.3 88.4h0M271.0 88.1h0M271.9 88.8h0M246.0 90.0h0M248.3 89.7h0M250.0 89.9h0M251.0 89.7h0M253.0 90.0h0M255.1 89.6h0M256.0 89.7h0M258.2 90.3h0M259.8 90.1h0M261.7 89.5h0M263.0 90.5h0M264.9 90.4h0M266.7 89.7h0M268.0 89.7h0M270.0 89.9h0M271.8 90.0h0M245.7 91.1h0M247.2 92.1h0M248.7 91.8h0M250.9 91.8h0M252.4 91.5h0M254.3 92.0h0M255.9 91.2h0M257.3 92.0h0M259.3 91.2h0M261.3 91.9h0M263.0 91.3h0M264.5 91.4h0M265.8 92.1h0M268.0 91.2h0M270.1 92.1h0M271.8 91.4h0M245.1 93.2h0M247.2 93.6h0M249.3 93.6h0M250.3 93.3h0M251.8 93.2h0M253.5 92.8h0M255.3 93.0h0M257.2 93.4h0M258.6 92.8h0M260.9 93.4h0M262.7 93.4h0M264.4 93.3h0M266.1 92.8h0M267.3 93.4h0M269.0 93.2h0M270.8 93.1h0M245.3 95.0h0M246.6 94.6h0M248.7 95.0h0M250.1 95.2h0M252.0 95.3h0M253.7 95.2h0M255.3 95.0h0M257.3 94.4h0M258.6 94.9h0M259.9 95.1h0M262.3 95.2h0M263.6 94.8h0M265.9 94.7h0M267.5 94.7h0M268.7 94.6h0M270.3 94.7h0M244.3 96.7h0M246.8 96.0h0M247.6 95.9h0M250.2 96.0h0M251.6 96.2h0M252.8 96.1h0M255.0 95.9h0M256.9 96.5h0M258.0 96.1h0M260.1 96.5h0M261.5 96.2h0M263.3 96.8h0M265.1 96.7h0M266.9 96.5h0M268.5 96.6h0M270.2 96.6h0M243.9 97.8h0M246.5 97.9h0M248.2 98.4h0M249.8 97.6h0M251.8 98.2h0M253.2 98.4h0M255.2 97.6h0M256.6 97.7h0M258.9 98.3h0M260.2 97.5h0M262.6 97.9h0M264.2 98.3h0M266.5 98.5h0M268.2 97.5h0M269.4 98.1h0M244.3 99.2h0M245.7 99.5h0M247.4 99.4h0M249.1 99.3h0M250.8 99.7h0M252.9 99.8h0M254.9 100.1h0M256.4 100.0h0M258.3 99.8h0M260.5 99.5h0M262.0 99.7h0M263.5 99.6h0M265.3 99.3h0M267.6 100.1h0M269.8 99.4h0M243.1 101.2h0M245.2 101.1h0M247.3 101.4h0M248.9 101.3h0M250.8 101.4h0M252.9 101.6h0M254.8 101.6h0M255.7 101.2h0M258.2 101.0h0M259.9 100.8h0M261.3 101.1h0M263.0 101.1h0M265.0 101.6h0M266.9 101.1h0M269.2 101.3h0M242.4 102.5h0M244.7 102.5h0M246.0 102.9h0M248.0 102.6h0M249.8 102.9h0M250.9 102.6h0M252.9 103.2h0M254.4 102.6h0M256.2 103.0h0M258.5 102.4h0M260.3 103.0h0M261.3 103.2h0M263.1 103.1h0M264.6 102.8h0M266.7 103.2h0M268.7 102.8h0M241.9 104.3h0M244.0 104.9h0M246.0 104.3h0M247.4 104.7h0M248.8 104.7h0M251.1 104.3h0M252.8 104.3h0M254.0 104.3h0M255.6 104.0h0M257.7 104.7h0M259.1 104.4h0M261.6 104.7h0M263.2 104.6h0M264.6 104.5h0M266.4 104.4h0M267.8 104.1h0M241.4 105.9h0M243.8 106.1h0M244.9 106.3h0M246.5 106.4h0M248.9 106.1h0M250.3 106.3h0M251.6 105.5h0M253.8 105.8h0M255.4 106.0h0M256.8 106.5h0M259.1 105.6h0M260.9 106.0h0M262.6 106.2h0M264.6 105.6h0M266.3 106.0h0M267.2 105.9h0M241.2 108.0h0M243.1 107.2h0M245.0 107.6h0M246.8 107.1h0M248.6 108.0h0M249.4 107.6h0M251.2 107.6h0M252.9 108.0h0M254.7 107.8h0M256.9 107.4h0M258.2 108.0h0M259.7 107.4h0M261.7 107.7h0M263.5 107.2h0M265.4 107.8h0M267.3 107.6h0M240.6 108.7h0M242.6 109.3h0M244.2 109.7h0M245.7 109.5h0M247.9 109.6h0M249.8 108.9h0M251.6 109.1h0M253.0 109.7h0M254.7 109.3h0M255.9 109.3h0M257.8 109.1h0M259.6 109.7h0M261.6 109.4h0M262.8 109.0h0M265.3 108.8h0M267.1 109.1h0M240.2 110.8h0M242.0 110.8h0M243.7 111.0h0M245.3 110.5h0M247.1 110.4h0M248.9 110.8h0M250.9 110.4h0M252.3 111.1h0M253.9 111.1h0M256.0 110.3h0M257.4 111.1h0M259.3 111.0h0M261.5 111.0h0M262.8 111.1h0M264.4 110.3h0M265.9 110.9h0M240.2 112.5h0M241.3 112.9h0M243.1 112.1h0M245.0 112.2h0M246.3 112.6h0M248.6 112.9h0M249.8 112.8h0M252.2 112.2h0M253.6 112.5h0M255.2 112.0h0M257.4 112.1h0M258.8 112.3h0M260.9 112.5h0M262.2 112.9h0M263.8 112.6h0M265.4 112.7h0M239.5 114.3h0M241.0 113.7h0M242.9 114.4h0M244.3 113.5h0M245.9 114.4h0M247.4 113.6h0M249.3 114.4h0M251.3 114.2h0M253.3 113.9h0M255.1 114.0h0M256.6 113.8h0M257.8 114.1h0M259.8 113.8h0M262.2 113.9h0M263.1 114.1h0M265.3 113.6h0M238.6 115.7h0M240.3 116.1h0M242.5 115.6h0M244.4 115.1h0M245.4 116.0h0M247.4 115.3h0M249.2 115.8h0M251.0 115.1h0M252.1 115.5h0M253.9 115.2h0M256.2 115.5h0M257.4 116.0h0M259.4 116.0h0M261.4 115.7h0M262.9 115.8h0M264.5 115.4h0M238.6 116.9h0M239.9 117.4h0M241.5 117.1h0M243.8 116.9h0M244.9 117.6h0M246.7 117.0h0M249.0 117.0h0M250.9 117.5h0M252.4 116.9h0M253.5 117.5h0M255.9 116.9h0M257.0 116.9h0M258.7 117.1h0M260.7 117.3h0M262.0 116.9h0M263.8 117.0h0M237.4 119.2h0M239.3 118.4h0M241.3 119.3h0M243.2 118.9h0M244.5 118.7h0M246.2 119.1h0M248.4 118.8h0M250.2 119.0h0M251.7 118.6h0M253.0 118.5h0M255.4 119.1h0M257.2 119.1h0M258.8 118.7h0M260.5 118.5h0M262.1 118.3h0M264.1 119.2h0M236.8 120.7h0M239.2 119.9h0M240.7 120.3h0M242.5 120.8h0M244.3 120.1h0M245.9 120.5h0M247.1 120.0h0M249.2 120.1h0M250.8 120.6h0M253.2 120.4h0M254.6 120.7h0M256.4 120.6h0M257.5 120.8h0M259.3 120.1h0M261.4 120.5h0M263.4 120.2h0M237.1 122.1h0M238.7 122.0h0M239.7 121.5h0M242.0 121.9h0M243.5 121.8h0M245.0 122.0h0M246.8 122.4h0M248.4 122.5h0M250.9 121.9h0M252.5 122.1h0M253.9 122.3h0M256.0 121.7h0M257.8 121.5h0M258.7 122.0h0M260.7 121.9h0M262.6 122.0h0M236.5 124.0h0M237.7 123.4h0M239.7 123.3h0M241.2 123.8h0M242.5 123.9h0M245.0 123.5h0M246.2 123.6h0M248.0 123.9h0M250.1 123.4h0M252.0 123.7h0M253.1 123.5h0M255.2 124.0h0M256.7 123.5h0M259.1 123.5h0M260.7 123.2h0M262.0 123.3h0M236.0 125.3h0M237.0 124.8h0M239.0 124.8h0M240.8 125.4h0M242.3 124.9h0M244.1 124.9h0M246.3 124.8h0M247.9 125.0h0M249.7 125.5h0M250.8 125.5h0M253.3 125.3h0M254.8 125.0h0M256.0 125.4h0M258.4 124.9h0M259.4 125.1h0M261.7 125.1h0M235.5 127.1h0M237.2 126.9h0M238.8 127.3h0M239.8 126.9h0M241.7 127.1h0M243.4 127.0h0M245.3 127.0h0M247.3 127.2h0M249.3 126.7h0M250.8 126.5h0M252.0 127.0h0M254.5 127.0h0M255.9 126.9h0M257.8 126.9h0M259.2 127.2h0M260.9 127.2h0M234.8 128.7h0M236.6 128.9h0M238.5 128.4h0M239.6 128.6h0M241.9 128.5h0M242.7 127.9h0M244.9 128.7h0M247.0 128.3h0M248.4 128.4h0M249.7 127.9h0M251.9 128.4h0M253.9 128.1h0M255.7 128.2h0M257.1 128.6h0M258.4 128.8h0M261.0 128.9h0M233.5 130.1h0M235.9 130.4h0M237.1 129.6h0M239.5 129.8h0M240.5 129.6h0M242.8 130.0h0M244.6 130.3h0M245.6 130.4h0M248.2 130.4h0M249.8 129.9h0M251.1 130.4h0M253.0 130.0h0M255.0 130.2h0M256.7 130.1h0M258.3 130.3h0M259.9 129.8h0M233.8 131.9h0M235.4 131.3h0M236.4 132.0h0M239.1 131.4h0M240.5 131.1h0M242.0 131.8h0M243.7 131.9h0M246.0 131.2h0M247.5 131.5h0M248.7 131.4h0M250.8 132.0h0M252.8 131.1h0M253.8 132.1h0M256.0 131.7h0M257.6 131.9h0M259.5 131.7h0M232.6 133.5h0M234.3 132.8h0M236.5 133.5h0M237.9 133.0h0M239.5 133.3h0M241.8 132.8h0M243.3 133.2h0M244.6 133.2h0M246.5 132.9h0M249.0 132.8h0M250.1 133.3h0M251.9 132.7h0M254.1 132.9h0M255.4 133.6h0M257.7 133.6h0M258.8 133.4h0M232.7 134.5h0M234.6 134.4h0M236.0 134.5h0M237.3 134.4h0M239.7 134.4h0M241.5 134.5h0M242.6 134.5h0M245.0 134.4h0M246.6 134.6h0M248.4 135.1h0M249.5 134.8h0M251.1 134.7h0M252.7 135.0h0M255.0 134.6h0M256.2 135.2h0M258.0 134.6h0M231.4 136.3h0M233.5 136.4h0M235.1 136.1h0M237.3 136.2h0M238.6 136.4h0M240.3 136.6h0M241.8 136.2h0M243.9 136.2h0M246.1 136.3h0M247.4 136.4h0M249.5 136.1h0M251.2 136.8h0M252.4 136.1h0M254.7 136.2h0M255.9 136.0h0M258.0 136.8h0M231.7 138.1h0M233.0 138.5h0M234.9 138.5h0M236.7 138.2h0M238.4 137.6h0M239.7 137.6h0M242.1 138.5h0M243.6 137.7h0M244.8 137.9h0M246.8 137.7h0M248.2 138.1h0M250.7 137.6h0M251.9 137.8h0M253.9 138.1h0M255.5 138.4h0M257.2 137.8h0M231.0 139.9h0M232.9 139.3h0M233.9 139.6h0M236.4 139.7h0M237.8 139.4h0M239.9 139.3h0M241.2 139.8h0M243.2 139.9h0M244.5 139.4h0M246.9 139.7h0M247.9 139.2h0M250.2 139.9h0M251.7 139.5h0M253.5 140.1h0M255.1 139.9h0M257.2 139.9h0M230.2 140.9h0M232.2 141.5h0M234.2 140.9h0M235.0 141.3h0M237.5 140.8h0M239.0 141.0h0M241.1 141.1h0M242.0 141.5h0M243.9 141.1h0M245.5 141.0h0M247.2 141.0h0M249.4 141.0h0M251.2 141.6h0M252.9 140.7h0M255.0 140.9h0M256.1 141.2h0M229.8 142.6h0M231.3 142.9h0M233.1 142.6h0M234.8 142.7h0M236.4 142.9h0M238.4 142.7h0M240.3 143.1h0M242.0 142.6h0M244.0 142.4h0M245.6 142.7h0M246.9 143.1h0M248.9 143.3h0M250.9 142.4h0M252.3 143.1h0M253.6 142.8h0M256.2 142.5h0M228.7 144.2h0M230.7 144.2h0M232.5 144.7h0M234.3 144.5h0M235.7 144.0h0M238.2 144.2h0M240.0 144.2h0M241.4 144.6h0M242.6 144.0h0M244.7 144.0h0M246.3 144.1h0M248.0 144.4h0M249.8 144.2h0M251.7 144.6h0M253.0 144.9h0M255.1 144.8h0M228.1 145.6h0M229.9 146.4h0M231.9 146.3h0M234.0 145.6h0M235.4 145.8h0M237.2 146.3h0M238.6 146.4h0M240.7 145.9h0M242.7 145.8h0M244.4 145.9h0M245.9 145.7h0M247.4 146.4h0M249.5 145.9h0M251.4 146.4h0M252.6 146.5h0M254.2 146.1h0M227.7 147.4h0M229.7 147.7h0M231.4 147.8h0M233.7 147.3h0M234.7 147.7h0M236.6 147.4h0M238.4 147.8h0M240.6 148.0h0M242.2 147.4h0M244.0 147.8h0M245.1 148.1h0M246.9 147.8h0M249.1 148.0h0M250.8 148.1h0M251.9 147.1h0M253.8 147.7h0M227.3 148.8h0M228.9 149.3h0M230.8 149.5h0M232.6 149.6h0M234.7 149.2h0M236.0 148.9h0M237.7 149.1h0M239.5 148.9h0M241.3 148.8h0M243.5 149.3h0M244.4 149.0h0M246.4 148.9h0M248.3 148.9h0M249.7 149.4h0M251.8 149.4h0M253.5 149.2h0M226.7 150.7h0M228.6 150.6h0M230.7 150.5h0M231.8 150.6h0M234.1 151.1h0M235.6 150.7h0M237.5 151.1h0M238.8 151.0h0M241.0 150.7h0M242.2 150.9h0M244.0 150.7h0M246.1 151.3h0M247.4 150.4h0M249.6 151.2h0M250.8 150.9h0M252.5 150.9h0M225.9 152.6h0M227.9 152.6h0M229.5 152.0h0M231.2 152.2h0M232.9 152.1h0M235.1 152.3h0M237.1 152.4h0M238.5 152.6h0M240.6 152.5h0M241.5 152.4h0M243.3 152.5h0M245.0 152.4h0M246.9 152.8h0M248.5 152.6h0M250.9 152.2h0M252.5 152.2h0M225.3 153.8h0M226.8 154.2h0M228.6 153.7h0M230.4 154.3h0M232.6 154.0h0M234.4 154.3h0M236.2 154.0h0M237.6 154.0h0M240.1 154.1h0M241.3 154.4h0M242.6 153.6h0M245.1 154.4h0M246.1 153.5h0M247.8 154.1h0M249.7 154.1h0M252.0 153.5h0M225.1 155.4h0M226.6 155.5h0M228.1 155.5h0M229.6 155.5h0M231.6 155.5h0M233.3 155.4h0M235.6 156.1h0M236.8 156.0h0M239.0 155.2h0M240.2 156.0h0M242.2 155.2h0M244.4 155.8h0M246.4 155.6h0M247.5 155.4h0M249.2 155.7h0M251.7 155.2h0M223.9 157.1h0M225.4 157.3h0M228.0 157.0h0M229.6 157.6h0M230.9 157.6h0M233.1 157.3h0M234.4 157.0h0M236.1 157.6h0M238.5 156.8h0M240.0 156.9h0M242.1 157.3h0M244.0 157.4h0M244.9 157.1h0M247.2 157.6h0M248.8 156.9h0M250.5 156.9h0M222.9 158.6h0M224.8 158.8h0M227.2 159.3h0M228.3 158.9h0M230.6 158.5h0M232.2 158.5h0M233.8 158.6h0M236.1 158.5h0M237.6 158.9h0M239.2 159.2h0M241.0 158.6h0M243.1 158.8h0M245.0 158.5h0M246.2 159.0h0M248.2 159.2h0M249.8 158.5h0M222.9 160.3h0M223.9 160.1h0M226.4 160.2h0M228.0 160.7h0M229.8 160.7h0M232.0 160.2h0M233.7 160.5h0M234.8 160.0h0M236.8 160.0h0M239.0 160.5h0M240.1 160.8h0M242.4 160.3h0M243.8 160.4h0M246.3 160.5h0M247.7 160.5h0M249.6 160.5h0M221.6 161.6h0M223.2 162.3h0M225.0 161.8h0M227.4 162.0h0M229.5 161.7h0M230.5 161.7h0M232.7 161.8h0M234.4 162.2h0M236.1 162.2h0M237.6 162.0h0M240.2 162.4h0M241.7 162.5h0M243.2 161.8h0M245.2 162.0h0M247.3 161.9h0M248.3 162.2h0M221.1 164.0h0M222.8 163.4h0M224.5 163.4h0M226.8 163.4h0M228.0 163.7h0M230.5 163.2h0M231.9 163.2h0M233.3 163.5h0M235.3 164.0h0M236.8 163.7h0M239.3 163.5h0M240.9 163.3h0M242.4 163.2h0M244.8 163.1h0M245.8 163.8h0M247.9 163.6h0M220.5 164.9h0M222.8 164.8h0M224.1 165.5h0M225.8 165.7h0M227.5 165.2h0M229.6 165.2h0M231.6 164.7h0M233.1 165.5h0M234.4 165.2h0M236.5 165.1h0M238.4 165.3h0M240.3 165.6h0M242.0 165.7h0M243.8 165.0h0M245.0 164.8h0M246.9 164.8h0M220.3 167.0h0M222.0 166.7h0M223.6 166.6h0M225.8 166.3h0M226.9 166.9h0M228.6 167.2h0M230.6 166.7h0M231.9 166.6h0M234.2 166.6h0M235.4 166.9h0M237.4 167.1h0M239.5 167.0h0M241.5 167.1h0M242.7 166.9h0M244.4 166.5h0M246.0 166.4h0M219.2 168.1h0M221.4 168.2h0M222.5 168.3h0M224.4 168.6h0M226.2 168.5h0M227.9 168.4h0M230.3 168.2h0M231.7 168.3h0M233.0 167.9h0M235.5 168.2h0M237.0 168.3h0M238.9 168.1h0M240.3 168.4h0M242.3 167.9h0M243.7 168.4h0M245.6 168.0h0M218.9 170.2h0M220.8 169.7h0M222.2 169.8h0M223.9 169.9h0M226.2 169.5h0M227.9 169.5h0M228.7 169.7h0M230.7 170.4h0M233.0 170.4h0M234.2 169.5h0M236.2 170.4h0M237.4 170.3h0M239.0 170.2h0M241.3 170.4h0M243.4 169.5h0M244.7 169.7h0M218.1 171.2h0M219.7 171.5h0M221.1 171.6h0M223.7 171.2h0M225.5 171.6h0M226.5 172.1h0M228.5 171.5h0M230.1 172.0h0M231.6 171.3h0M233.5 171.2h0M235.8 171.6h0M237.2 172.0h0M238.9 171.4h0M240.6 171.6h0M242.1 171.3h0M243.9 171.8h0M217.1 173.7h0M218.9 173.0h0M220.6 173.1h0M222.6 173.4h0M224.8 172.9h0M226.5 173.0h0M227.8 172.8h0M230.1 173.1h0M231.6 172.7h0M233.4 172.9h0M234.9 173.4h0M236.4 173.2h0M238.8 172.9h0M240.2 172.9h0M241.6 173.2h0M243.6 173.3h0M217.1 175.0h0M218.4 174.8h0M220.5 175.1h0M222.2 174.8h0M223.5 175.2h0M225.4 174.7h0M227.8 174.5h0M229.6 174.5h0M230.5 174.8h0M233.0 174.7h0M234.8 174.7h0M236.6 174.4h0M237.8 174.4h0M240.0 174.8h0M241.7 174.5h0M243.6 175.3h0M215.6 176.2h0M218.2 176.8h0M220.0 176.1h0M221.5 176.0h0M223.2 176.5h0M224.8 176.3h0M226.7 176.0h0M228.2 176.7h0M229.9 176.9h0M232.6 176.9h0M234.3 175.9h0M235.4 176.2h0M237.3 176.0h0M239.8 176.8h0M241.4 176.2h0M243.3 176.7h0M215.2 177.6h0M216.7 177.9h0M219.1 177.6h0M220.4 177.9h0M222.6 177.7h0M224.0 177.8h0M225.7 178.3h0M227.6 178.3h0M228.8 177.8h0M230.3 177.8h0M232.0 178.3h0M233.6 177.7h0M236.1 178.3h0M238.0 177.9h0M238.7 178.3h0M240.7 178.3h0M242.1 177.5h0M214.8 179.8h0M216.5 179.6h0M218.2 179.2h0M219.4 179.4h0M221.6 179.3h0M223.0 179.5h0M224.9 179.4h0M227.2 180.0h0M228.0 179.6h0M229.9 179.4h0M231.4 179.2h0M233.1 179.2h0M235.5 179.2h0M237.4 179.9h0M238.5 179.8h0M240.9 179.2h0M242.3 179.6h0M213.7 181.0h0M215.2 181.3h0M217.1 181.1h0M219.6 181.0h0M220.7 181.6h0M222.7 181.3h0M224.1 181.3h0M226.0 181.2h0M227.8 180.8h0M230.0 181.4h0M231.8 181.0h0M232.9 180.8h0M234.7 181.0h0M236.3 181.0h0M238.1 181.6h0M240.0 181.5h0M241.4 180.9h0M213.5 182.4h0M214.4 182.8h0M216.4 182.5h0M218.5 182.9h0M219.8 182.8h0M221.9 183.1h0M223.3 182.5h0M225.6 182.3h0M227.6 183.3h0M228.9 183.1h0M230.6 183.2h0M232.3 182.3h0M233.9 182.8h0M235.7 183.3h0M238.1 182.9h0M239.8 182.7h0M241.9 183.0h0M212.2 184.2h0M213.7 184.2h0M215.7 184.0h0M218.1 184.2h0M219.5 184.0h0M221.3 184.5h0M222.6 184.9h0M224.5 184.2h0M226.9 184.2h0M228.8 184.1h0M230.1 184.6h0M232.4 184.8h0M233.6 184.4h0M235.6 184.6h0M237.2 184.7h0M239.5 184.1h0M240.9 184.2h0M211.8 186.0h0M213.2 186.4h0M214.7 186.4h0M216.3 185.5h0M217.8 186.2h0M219.8 186.3h0M221.7 186.2h0M223.2 186.1h0M225.3 185.9h0M226.8 186.3h0M228.9 185.9h0M229.8 186.3h0M231.9 186.5h0M233.9 185.9h0M235.7 186.0h0M237.3 186.4h0M238.8 186.4h0M240.4 185.9h0M210.7 187.5h0M212.5 187.6h0M214.3 187.9h0M215.8 188.0h0M217.8 188.0h0M218.7 187.1h0M221.1 187.4h0M223.0 187.5h0M224.6 187.3h0M226.2 188.0h0M228.2 187.5h0M229.5 187.6h0M231.1 187.6h0M233.4 188.0h0M234.5 187.8h0M236.9 187.5h0M238.5 187.9h0M240.3 187.2h0M210.2 189.7h0M211.2 189.3h0M212.8 189.3h0M215.2 189.4h0M217.1 189.0h0M218.1 189.5h0M219.7 188.9h0M221.6 189.5h0M223.6 189.5h0M225.6 189.5h0M227.4 189.6h0M228.6 189.1h0M230.7 189.3h0M232.6 189.5h0M233.9 188.8h0M236.0 189.4h0M237.3 188.8h0M238.8 188.9h0M208.6 190.5h0M210.1 190.5h0M212.2 190.4h0M213.8 190.7h0M216.2 191.2h0M217.5 190.4h0M219.1 191.0h0M221.0 190.9h0M223.1 191.0h0M225.0 190.4h0M226.2 190.3h0M228.2 190.9h0M229.7 190.4h0M231.6 190.5h0M233.1 190.7h0M235.6 190.7h0M237.1 190.7h0M238.6 190.4h0M207.6 192.7h0M209.6 192.2h0M211.9 192.8h0M213.0 192.3h0M215.1 192.1h0M216.7 192.2h0M218.9 192.0h0M220.8 192.1h0M221.9 192.0h0M224.3 192.7h0M225.2 192.4h0M227.3 192.5h0M229.1 192.9h0M230.7 192.7h0M232.5 192.5h0M234.5 192.4h0M236.3 192.5h0M237.7 192.0h0M207.4 193.8h0M208.6 193.7h0M210.7 194.5h0M212.2 193.8h0M214.0 193.5h0M215.5 193.5h0M217.6 194.5h0M219.2 194.0h0M221.0 193.5h0M223.5 193.6h0M224.6 194.3h0M226.5 193.7h0M229.0 193.7h0M230.6 193.8h0M232.2 193.8h0M233.8 194.4h0M236.1 193.7h0M237.7 193.6h0M205.8 195.2h0M207.9 195.8h0M209.7 195.9h0M211.1 195.3h0M212.4 195.5h0M215.0 195.5h0M216.4 196.0h0M218.4 195.8h0M219.8 195.3h0M221.7 195.5h0M223.4 195.3h0M225.3 195.3h0M226.9 196.0h0M228.0 196.0h0M230.2 195.7h0M231.5 195.4h0M233.2 195.5h0M235.3 195.8h0M237.1 195.4h0M205.0 197.5h0M207.3 196.9h0M208.5 197.0h0M210.8 196.7h0M212.4 197.5h0M213.6 197.4h0M215.4 197.3h0M217.2 197.6h0M218.9 197.5h0M220.8 197.1h0M222.9 196.9h0M224.6 197.7h0M226.2 197.3h0M227.7 197.6h0M229.3 197.5h0M231.4 197.6h0M232.7 197.4h0M234.1 196.8h0M235.9 197.4h0M204.3 199.2h0M205.8 198.5h0M208.2 198.7h0M209.3 199.1h0M211.0 199.3h0M212.8 199.2h0M214.7 199.2h0M216.2 199.2h0M217.9 198.7h0M220.0 198.9h0M221.7 199.0h0M223.0 198.3h0M225.2 198.9h0M226.7 198.8h0M228.8 198.6h0M230.5 198.5h0M232.0 199.2h0M233.1 199.1h0M235.0 198.4h0M203.7 200.6h0M205.4 200.9h0M206.9 200.2h0M209.0 200.3h0M210.7 199.9h0M212.4 200.2h0M214.7 200.3h0M216.5 200.3h0M217.9 200.1h0M219.6 200.8h0M221.6 200.2h0M223.2 200.8h0M225.4 200.6h0M227.3 200.1h0M229.0 200.0h0M230.7 200.2h0M232.5 200.1h0M234.0 200.6h0M203.6 201.8h0M204.6 201.6h0M206.8 202.4h0M208.0 201.8h0M209.9 202.5h0M211.6 201.6h0M214.0 202.5h0M215.7 201.6h0M217.1 202.0h0M219.4 202.3h0M220.3 202.0h0M222.8 202.0h0M224.4 202.5h0M226.5 202.3h0M227.9 201.8h0M229.2 201.7h0M231.4 202.3h0M233.4 202.4h0M202.3 203.4h0M203.9 203.6h0M206.4 203.9h0M207.7 203.3h0M209.8 204.0h0M211.5 203.4h0M212.9 203.7h0M215.1 203.3h0M216.4 203.2h0M217.7 203.3h0M220.3 203.8h0M221.7 203.5h0M223.2 203.9h0M225.2 203.2h0M227.1 204.1h0M228.3 204.1h0M230.0 203.4h0M232.7 204.1h0M201.5 205.4h0M203.7 205.1h0M205.6 205.3h0M206.8 205.2h0M209.1 205.3h0M210.6 205.4h0M212.0 204.7h0M213.6 205.3h0M215.8 205.5h0M218.1 204.8h0M219.3 205.1h0M221.2 205.6h0M223.0 205.0h0M224.8 205.0h0M226.4 204.8h0M228.2 205.2h0M230.0 205.3h0M231.7 205.4h0M200.8 207.1h0M203.0 207.0h0M204.6 206.4h0M206.8 207.1h0M208.7 206.8h0M210.3 207.2h0M211.8 207.2h0M213.8 206.4h0M214.9 206.7h0M217.0 207.0h0M218.8 207.2h0M220.8 206.4h0M222.1 207.2h0M224.3 206.3h0M225.9 206.4h0M227.6 207.3h0M228.9 207.1h0M231.1 207.3h0M200.6 208.0h0M202.2 208.8h0M203.6 208.6h0M205.4 208.1h0M207.2 208.2h0M209.6 208.1h0M210.9 208.4h0M212.9 208.9h0M214.6 208.8h0M215.9 208.6h0M217.7 208.8h0M220.0 208.0h0M222.0 208.4h0M223.4 208.0h0M225.6 208.4h0M227.3 208.0h0M228.9 208.3h0M230.6 208.5h0M199.7 210.4h0M200.7 210.4h0M202.4 209.5h0M204.3 209.8h0M206.5 210.1h0M207.8 210.3h0M210.0 210.1h0M211.4 210.4h0M212.8 210.5h0M214.4 209.5h0M216.7 209.7h0M217.9 210.0h0M219.4 209.9h0M221.3 209.6h0M223.3 210.0h0M224.6 210.3h0M226.5 209.5h0M228.7 209.9h0M229.6 209.8h0M198.3 211.1h0M200.1 211.3h0M201.6 211.8h0M203.3 211.1h0M205.0 211.4h0M206.7 211.7h0M209.2 211.9h0M210.5 211.9h0M212.5 211.7h0M214.2 211.5h0M215.9 211.6h0M217.6 211.8h0M218.6 211.9h0M220.3 211.5h0M222.6 211.9h0M223.8 211.8h0M225.8 211.1h0M227.5 211.7h0M229.0 211.9h0M197.2 212.9h0M199.2 212.8h0M201.5 213.7h0M203.2 212.9h0M204.9 213.0h0M206.1 213.4h0M207.6 212.7h0M210.2 213.1h0M211.8 213.1h0M212.8 213.2h0M214.6 212.8h0M216.2 213.1h0M218.1 213.0h0M220.6 213.5h0M222.0 212.9h0M223.8 213.4h0M225.3 212.9h0M226.7 213.1h0M228.5 213.6h0M196.8 215.0h0M199.0 214.9h0M200.0 214.6h0M202.5 214.3h0M203.5 214.9h0M205.9 215.1h0M207.5 215.0h0M208.9 214.4h0M210.9 214.4h0M212.8 214.4h0M213.7 215.3h0M215.6 214.9h0M217.2 215.3h0M218.9 215.0h0M221.5 214.6h0M222.4 214.3h0M224.2 215.1h0M226.4 215.2h0M228.2 214.9h0M195.7 216.1h0M198.3 216.9h0M199.5 216.7h0M201.5 216.2h0M202.7 216.6h0M205.2 216.9h0M206.4 216.0h0M208.1 216.0h0M210.5 216.2h0M212.1 216.1h0M214.0 216.4h0M215.6 216.5h0M217.3 216.0h0M218.3 216.3h0M220.9 216.8h0M222.5 216.5h0M223.5 216.8h0M225.9 216.5h0M227.8 216.1h0M195.4 218.2h0M197.3 217.6h0M199.0 218.4h0M200.7 217.7h0M202.7 217.6h0M203.8 218.4h0M205.9 217.8h0M207.9 218.1h0M208.9 217.7h0M211.4 218.3h0M212.4 218.0h0M214.8 217.8h0M215.9 217.9h0M218.5 218.2h0M219.5 218.3h0M221.8 217.8h0M223.1 217.7h0M225.0 217.9h0M226.6 218.4h0M194.8 219.6h0M196.7 219.8h0M198.5 219.9h0M199.9 219.8h0M201.8 219.9h0M203.7 219.4h0M204.9 219.3h0M207.3 220.0h0M208.5 219.5h0M210.0 220.1h0M212.3 220.1h0M214.0 219.6h0M215.9 220.0h0M217.8 219.4h0M219.2 220.0h0M220.9 219.9h0M222.7 219.9h0M224.0 219.1h0M225.8 219.5h0M193.6 221.7h0M196.0 220.8h0M197.6 221.2h0M199.4 221.1h0M201.1 220.7h0M202.6 221.0h0M204.1 221.0h0M206.0 221.2h0M207.9 221.4h0M210.0 221.7h0M211.6 221.0h0M213.3 221.1h0M214.7 221.0h0M216.5 221.2h0M218.1 221.2h0M220.2 220.7h0M221.8 221.7h0M223.9 220.8h0M225.7 221.4h0M192.6 222.7h0M194.5 222.8h0M196.9 222.5h0M197.9 222.4h0M200.2 222.4h0M201.9 223.1h0M203.9 223.0h0M204.9 222.7h0M206.9 222.8h0M208.6 222.4h0M211.2 223.2h0M212.1 223.1h0M213.9 222.6h0M216.6 223.2h0M217.8 223.0h0M219.5 223.1h0M221.2 222.5h0M222.8 222.9h0M225.0 223.2h0M191.9 224.7h0M194.4 224.6h0M195.4 224.1h0M197.2 224.2h0M199.6 224.0h0M201.1 223.9h0M203.1 224.0h0M205.0 224.5h0M206.2 224.6h0M208.1 224.4h0M210.1 224.2h0M211.8 224.7h0M214.0 224.7h0M215.5 224.8h0M216.8 224.9h0M218.5 224.8h0M221.1 224.3h0M222.8 224.9h0M224.0 224.5h0M191.0 226.2h0M192.8 226.2h0M194.6 225.9h0M197.2 225.8h0M199.1 226.0h0M200.1 226.4h0M201.9 226.1h0M204.4 226.4h0M205.8 225.7h0M207.6 225.8h0M209.2 225.8h0M210.9 225.5h0M213.2 225.5h0M214.8 225.9h0M216.7 226.1h0M218.3 226.3h0M220.2 226.4h0M222.0 226.4h0M224.1 226.2h0M190.5 227.6h0M192.1 227.8h0M194.4 227.9h0M195.6 227.2h0M198.0 227.8h0M199.2 227.1h0M201.2 227.4h0M202.7 227.2h0M204.7 227.1h0M206.4 227.1h0M208.4 227.8h0M210.5 227.7h0M212.1 227.3h0M213.4 227.3h0M216.1 227.9h0M217.5 227.7h0M219.5 227.9h0M220.8 227.9h0M222.9 227.4h0M189.7 228.9h0M191.8 229.7h0M193.8 228.9h0M194.9 229.0h0M196.7 228.8h0M199.1 229.0h0M200.7 229.0h0M202.9 229.3h0M203.8 229.5h0M205.7 229.2h0M207.5 229.2h0M209.3 229.0h0M210.9 229.7h0M212.7 229.0h0M214.7 228.8h0M216.3 229.1h0M218.4 229.2h0M220.0 229.4h0M222.1 229.0h0M188.9 230.9h0M190.9 231.1h0M192.2 230.8h0M194.3 230.5h0M196.6 230.5h0M198.3 231.2h0M200.3 230.4h0M201.2 230.4h0M203.1 231.2h0M205.2 230.5h0M206.5 231.0h0M208.7 230.3h0M210.5 230.5h0M211.9 230.4h0M214.4 230.8h0M215.8 230.5h0M217.3 230.9h0M219.5 231.2h0M220.7 230.5h0M188.3 232.2h0M190.5 232.3h0M191.8 232.4h0M193.8 232.3h0M195.0 232.6h0M196.8 232.8h0M198.7 232.2h0M200.8 232.8h0M202.4 232.4h0M204.2 232.0h0M205.8 232.8h0M208.2 232.2h0M209.9 231.9h0M211.5 231.9h0M213.0 232.3h0M214.7 232.8h0M216.4 231.9h0M217.9 232.6h0M219.7 232.0h0M187.4 234.5h0M189.4 233.6h0M191.3 233.9h0M193.0 234.5h0M194.9 234.0h0M196.9 234.0h0M198.1 234.4h0M200.4 234.2h0M201.5 233.9h0M202.9 233.7h0M205.4 234.0h0M207.3 234.2h0M208.7 234.3h0M210.4 234.2h0M212.2 233.9h0M214.2 233.6h0M216.1 234.5h0M217.7 234.0h0M219.1 233.9h0M186.9 235.3h0M189.0 236.0h0M190.4 236.0h0M191.9 236.0h0M194.4 235.8h0M196.1 235.8h0M197.6 235.6h0M198.7 235.2h0M201.2 235.3h0M202.8 235.3h0M204.6 236.1h0M206.2 235.1h0M208.1 235.6h0M209.9 235.2h0M211.1 236.0h0M213.4 236.0h0M214.8 235.8h0M217.0 235.8h0M217.8 235.3h0M185.7 236.8h0M187.4 237.1h0M189.8 237.6h0M191.3 236.9h0M193.5 237.6h0M195.3 236.7h0M196.7 237.3h0M198.3 236.9h0M200.5 237.2h0M201.3 237.0h0M203.7 236.9h0M205.5 236.9h0M206.9 237.0h0M208.3 237.6h0M210.3 237.5h0M212.6 237.0h0M213.4 237.2h0M215.4 237.6h0M217.1 237.4h0M184.9 238.6h0M186.8 239.2h0M188.9 239.0h0M190.1 238.6h0M192.7 238.9h0M194.3 238.8h0M195.4 239.2h0M197.2 238.5h0M199.4 238.4h0M201.2 239.0h0M202.5 238.8h0M204.4 238.4h0M205.7 238.7h0M207.4 238.5h0M209.5 238.9h0M211.3 238.5h0M213.3 239.1h0M214.9 239.0h0M216.3 239.1h0M184.6 240.1h0M186.4 240.5h0M188.0 240.4h0M189.9 240.6h0M191.5 240.0h0M192.9 240.9h0M194.8 240.5h0M196.2 240.5h0M198.4 240.7h0M200.5 240.4h0M201.6 240.1h0M203.3 240.3h0M205.7 240.4h0M207.2 240.6h0M208.2 240.1h0M210.5 240.0h0M211.8 240.7h0M214.1 240.0h0M215.3 240.7h0M183.6 241.8h0M185.5 242.2h0M187.5 241.6h0M189.0 242.0h0M190.3 242.0h0M191.8 241.6h0M193.6 242.2h0M195.9 241.7h0M197.2 242.3h0M199.1 241.8h0M201.3 242.0h0M202.7 242.1h0M203.9 241.9h0M206.4 242.2h0M208.2 241.8h0M209.5 241.7h0M211.0 241.6h0M212.7 241.7h0M214.7 241.9h0M183.0 243.9h0M184.5 243.8h0M186.1 243.4h0M187.9 243.7h0M190.1 243.9h0M190.9 243.7h0M192.7 243.7h0M195.2 243.8h0M196.2 243.5h0M198.0 243.8h0M200.2 243.8h0M201.6 243.7h0M203.2 244.0h0M205.7 243.1h0M207.0 243.8h0M208.4 243.1h0M209.9 243.8h0M211.7 243.5h0M214.2 243.2h0M182.0 245.1h0M183.4 245.2h0M185.1 245.6h0M187.2 245.1h0M188.4 245.2h0M191.0 245.6h0M191.8 245.1h0M193.9 245.1h0M195.3 244.9h0M197.4 245.4h0M199.4 245.4h0M201.0 244.7h0M202.3 245.0h0M204.1 245.1h0M206.0 245.0h0M207.3 245.6h0M210.0 245.3h0M211.0 245.2h0M213.4 245.3h0M181.1 247.0h0M183.1 247.0h0M184.0 246.8h0M186.5 246.4h0M187.4 246.4h0M189.2 246.5h0M191.6 246.9h0M193.3 246.9h0M194.6 247.1h0M196.2 246.7h0M198.2 247.0h0M200.3 246.9h0M201.8 246.6h0M203.6 247.1h0M205.1 247.1h0M206.9 246.8h0M208.8 246.4h0M210.1 246.5h0M212.2 247.0h0M180.2 248.1h0M181.6 248.0h0M183.7 248.3h0M185.0 248.1h0M187.4 248.4h0M189.2 248.2h0M190.2 248.6h0M192.6 248.1h0M194.3 248.5h0M196.0 248.8h0M197.3 248.8h0M198.8 248.3h0M200.8 248.1h0M202.6 248.7h0M203.9 248.4h0M206.1 248.1h0M207.9 248.2h0M209.6 248.5h0M211.5 248.8h0M179.6 250.0h0M180.6 249.7h0M182.9 250.3h0M184.6 250.3h0M186.1 250.4h0M188.0 250.1h0M189.9 250.2h0M191.5 250.4h0M192.9 250.3h0M194.5 250.0h0M196.8 250.5h0M198.6 250.3h0M200.3 250.4h0M201.8 249.7h0M202.9 250.3h0M205.4 250.2h0M206.9 250.2h0M208.8 250.0h0M210.5 249.7h0M178.3 251.7h0M180.0 251.4h0M181.3 251.8h0M183.0 251.9h0M184.8 251.9h0M186.7 252.0h0M188.3 251.3h0M190.4 251.9h0M191.8 251.6h0M193.9 251.4h0M195.3 251.7h0M196.9 251.2h0M199.3 251.2h0M201.1 251.9h0M202.2 252.0h0M203.6 251.7h0M205.6 251.4h0M207.8 251.1h0M209.5 251.2h0M177.5 253.0h0M179.1 253.6h0M181.1 252.8h0M182.3 253.2h0M184.4 252.7h0M186.2 253.5h0M188.0 252.9h0M189.0 253.5h0M191.0 252.9h0M192.2 252.9h0M194.6 253.4h0M195.9 253.6h0M197.8 253.2h0M199.4 253.1h0M201.0 253.5h0M202.8 252.9h0M204.5 253.6h0M206.4 252.8h0M207.9 253.2h0M176.0 255.3h0M178.7 254.4h0M180.1 254.6h0M181.5 254.6h0M183.2 255.0h0M185.3 255.0h0M187.5 254.9h0M188.8 254.4h0M190.9 255.0h0M192.8 254.4h0M193.9 255.2h0M196.2 254.4h0M198.1 254.4h0M199.8 254.9h0M201.7 254.4h0M203.7 255.2h0M205.5 255.1h0M206.6 255.3h0M175.7 256.6h0M177.5 256.1h0M179.5 256.5h0M180.6 256.3h0M182.3 256.3h0M184.9 256.3h0M186.1 256.7h0M187.6 256.0h0M190.0 256.0h0M191.6 256.7h0M193.3 256.0h0M194.8 256.4h0M197.3 256.6h0M198.8 256.5h0M200.2 256.5h0M201.6 256.3h0M204.2 256.1h0M205.8 256.6h0M174.4 258.4h0M176.2 258.5h0M178.1 258.1h0M180.4 258.3h0M181.7 257.7h0M183.6 258.1h0M184.8 257.9h0M187.4 258.0h0M188.4 258.1h0M190.4 258.4h0M192.2 257.5h0M193.7 257.7h0M196.2 257.9h0M197.4 258.5h0M199.0 258.1h0M201.5 258.4h0M202.4 258.0h0M204.3 258.2h0M173.6 259.3h0M175.3 259.2h0M177.5 259.4h0M178.9 259.4h0M180.7 259.4h0M182.4 259.8h0M183.9 259.8h0M185.8 259.2h0M187.3 260.0h0M189.0 259.4h0M191.6 259.2h0M192.6 259.4h0M195.0 259.2h0M196.9 259.2h0M198.2 259.9h0M199.9 259.6h0M201.6 259.4h0M203.9 259.5h0M172.7 261.3h0M174.8 260.9h0M175.7 261.6h0M177.8 261.3h0M179.7 261.5h0M181.6 261.4h0M182.5 261.5h0M184.3 261.6h0M186.0 261.5h0M188.4 260.7h0M190.3 261.3h0M191.4 261.6h0M193.6 261.2h0M195.7 260.9h0M196.7 261.6h0M198.4 261.5h0M200.2 261.5h0M202.1 261.3h0M171.3 262.7h0M173.0 262.9h0M174.4 263.2h0M176.8 262.5h0M178.0 262.7h0M180.3 262.8h0M181.6 263.1h0M183.2 263.0h0M185.5 262.4h0M187.1 262.9h0M189.2 262.6h0M190.5 263.2h0M191.9 263.2h0M193.9 262.6h0M196.3 262.7h0M197.3 262.5h0M199.5 262.9h0M200.8 262.8h0M169.6 264.7h0M171.5 264.5h0M173.8 264.1h0M175.6 264.4h0M177.1 264.2h0M178.9 264.6h0M180.5 264.8h0M182.2 263.9h0M184.4 264.5h0M185.9 264.5h0M187.1 264.2h0M188.9 264.5h0M191.4 264.6h0M193.1 264.2h0M194.1 264.3h0M196.0 264.2h0M197.9 264.1h0M200.1 264.5h0M168.8 266.5h0M170.0 266.4h0M172.3 266.1h0M174.2 266.0h0M175.1 265.6h0M177.1 266.2h0M179.1 266.2h0M180.3 265.7h0M182.6 266.2h0M184.3 265.7h0M185.9 266.3h0M188.1 265.7h0M190.1 265.5h0M191.1 265.9h0M193.4 266.1h0M195.1 266.5h0M196.5 265.7h0M198.3 266.1h0M166.7 267.1h0M169.1 268.1h0M171.1 267.5h0M172.3 267.9h0M174.6 267.5h0M176.3 267.8h0M177.3 267.6h0M178.9 267.5h0M181.2 267.9h0M182.7 267.7h0M184.8 267.6h0M186.5 267.6h0M188.3 267.6h0M190.3 267.2h0M192.1 267.8h0M193.0 267.8h0M195.1 267.6h0M197.0 267.8h0M165.7 269.3h0M167.2 268.8h0M169.4 269.7h0M170.6 269.6h0M172.6 269.4h0M174.3 269.4h0M176.2 269.5h0M177.8 269.0h0M179.9 268.8h0M182.0 269.3h0M183.7 268.9h0M185.2 268.9h0M186.3 269.1h0M188.5 269.3h0M190.2 268.9h0M192.2 269.0h0M193.5 269.5h0M195.7 269.4h0M164.8 271.2h0M165.8 271.3h0M167.9 270.9h0M169.4 270.7h0M171.4 270.3h0M173.3 270.6h0M175.0 271.0h0M176.7 270.4h0M178.4 270.7h0M180.3 271.0h0M181.8 271.0h0M183.2 271.1h0M185.8 271.2h0M187.4 270.7h0M189.2 270.9h0M190.3 270.8h0M192.6 271.0h0M194.4 270.3h0M163.5 272.8h0M164.8 272.8h0M166.2 272.3h0M167.9 272.6h0M170.4 272.8h0M171.3 272.7h0M173.5 272.1h0M175.6 272.4h0M176.5 272.3h0M178.8 272.8h0M180.1 272.5h0M181.7 272.8h0M183.4 272.9h0M185.7 272.7h0M187.5 272.4h0M189.0 272.1h0M190.6 272.0h0M192.3 272.6h0M161.7 274.1h0M163.4 274.4h0M165.5 273.8h0M166.9 274.5h0M168.3 274.2h0M170.5 274.2h0M172.1 274.2h0M173.6 274.4h0M175.6 273.8h0M177.4 274.2h0M179.4 274.1h0M180.7 273.9h0M182.4 273.8h0M184.3 274.4h0M186.0 273.7h0M187.2 274.4h0M189.1 274.2h0M191.5 274.4h0M160.3 276.0h0M161.9 276.0h0M163.9 275.2h0M165.8 275.3h0M167.7 275.1h0M169.2 275.3h0M170.7 275.5h0M172.7 275.4h0M174.3 276.0h0M175.4 275.8h0M177.1 275.9h0M179.6 275.2h0M181.4 275.5h0M182.5 276.1h0M184.3 275.3h0M186.0 276.0h0M188.4 275.6h0M189.6 275.7h0M159.3 276.7h0M160.9 277.7h0M162.3 277.1h0M164.5 277.1h0M165.7 277.6h0M167.5 277.3h0M169.0 277.4h0M170.8 277.5h0M172.7 277.6h0M174.4 277.6h0M176.1 277.4h0M177.6 277.3h0M179.7 276.9h0M181.3 277.6h0M182.7 277.2h0M185.0 277.1h0M186.0 277.2h0M188.1 277.6h0M157.7 279.1h0M159.1 279.2h0M161.3 278.4h0M162.9 279.2h0M164.6 279.3h0M165.9 278.9h0M167.9 278.6h0M169.8 278.7h0M171.4 279.1h0M173.2 278.4h0M174.2 279.1h0M176.5 278.4h0M177.7 278.8h0M179.5 279.2h0M181.3 279.2h0M183.5 278.9h0M185.1 279.0h0M186.5 278.8h0M155.8 279.9h0M158.4 280.8h0M160.0 280.0h0M161.7 280.6h0M163.3 280.3h0M165.4 279.9h0M166.9 280.2h0M168.7 280.5h0M170.4 280.8h0M172.7 280.7h0M174.4 280.4h0M175.7 280.7h0M177.3 280.5h0M179.6 280.0h0M181.0 280.6h0M183.4 280.3h0M184.9 280.6h0M154.6 282.0h0M156.4 282.2h0M158.3 282.1h0M160.0 281.7h0M161.3 282.3h0M163.1 281.9h0M165.5 281.6h0M167.1 281.7h0M168.8 282.3h0M170.8 282.3h0M172.3 282.0h0M173.7 281.6h0M176.1 281.6h0M178.0 281.7h0M179.6 281.9h0M181.3 282.3h0M182.7 282.3h0M153.0 283.7h0M154.6 283.5h0M156.8 283.5h0M157.8 283.7h0M160.2 284.0h0M161.7 283.5h0M163.6 283.7h0M165.4 283.9h0M167.1 284.1h0M168.8 284.1h0M170.6 283.3h0M172.3 283.9h0M173.9 283.3h0M175.6 283.9h0M177.2 283.1h0M179.6 284.1h0M181.4 283.9h0M151.3 285.3h0M152.9 285.4h0M154.4 284.9h0M156.5 285.3h0M158.5 285.1h0M159.7 284.8h0M161.1 284.8h0M163.4 285.7h0M164.7 284.9h0M167.0 285.0h0M168.1 285.6h0M170.0 285.1h0M172.4 285.5h0M174.3 285.3h0M175.3 284.8h0M177.5 285.2h0M178.9 284.9h0M149.1 286.6h0M150.9 286.7h0M153.0 286.8h0M154.9 286.8h0M156.1 287.2h0M158.2 287.1h0M159.5 287.3h0M161.6 286.7h0M163.0 286.4h0M164.5 286.5h0M166.6 286.8h0M168.4 286.3h0M169.9 286.3h0M171.5 286.6h0M173.9 286.5h0M175.9 287.3h0M177.3 286.3h0M147.2 288.4h0M149.7 288.9h0M151.3 288.8h0M152.4 288.4h0M154.5 288.1h0M156.3 288.5h0M158.4 288.0h0M159.5 288.1h0M161.2 288.2h0M163.0 288.9h0M164.7 288.4h0M166.3 288.1h0M168.1 288.5h0M169.9 288.2h0M171.9 287.9h0M173.9 288.0h0M175.2 288.9h0M145.5 289.5h0M147.5 290.1h0M149.2 289.7h0M151.2 290.1h0M152.6 290.1h0M154.8 290.0h0M156.1 290.1h0M157.9 289.6h0M160.0 289.6h0M161.6 289.9h0M163.3 290.0h0M165.1 290.0h0M166.3 290.3h0M168.6 290.0h0M170.4 290.2h0M172.1 289.7h0M173.8 290.3h0M144.6 291.4h0M145.9 292.0h0M147.7 291.4h0M149.0 292.0h0M151.1 291.2h0M152.4 291.7h0M154.1 291.6h0M156.3 291.2h0M157.6 292.0h0M159.1 291.2h0M161.5 291.8h0M162.9 292.0h0M164.4 291.1h0M166.7 291.7h0M167.9 291.7h0M169.4 291.4h0M171.6 291.9h0M142.2 292.8h0M143.8 293.0h0M146.1 293.4h0M148.0 293.6h0M149.8 293.4h0M151.5 293.4h0M153.4 293.7h0M154.7 293.3h0M156.4 292.9h0M159.0 293.1h0M160.5 292.9h0M162.2 292.7h0M164.1 293.7h0M166.0 293.4h0M167.7 293.0h0M169.7 293.1h0M140.5 294.8h0M142.9 295.0h0M144.4 294.4h0M146.3 294.7h0M147.9 294.9h0M149.8 294.3h0M150.9 294.6h0M152.7 295.0h0M154.4 294.4h0M156.6 294.4h0M158.6 294.6h0M159.9 294.9h0M162.3 294.6h0M163.4 294.7h0M165.7 295.2h0M166.8 294.3h0M138.7 296.2h0M140.9 296.6h0M142.6 296.3h0M144.0 296.8h0M145.4 295.9h0M147.1 296.7h0M149.3 296.6h0M151.2 296.7h0M152.8 296.2h0M154.1 296.3h0M155.9 296.8h0M158.2 296.2h0M159.7 296.4h0M161.5 296.8h0M162.9 296.5h0M164.9 296.9h0M136.9 298.1h0M138.6 298.0h0M141.3 298.2h0M142.2 298.5h0M144.5 298.1h0M146.7 298.1h0M147.8 297.9h0M150.2 297.9h0M151.4 297.9h0M153.1 297.6h0M155.0 298.0h0M157.0 297.7h0M159.2 298.1h0M161.1 297.7h0M162.7 297.8h0M134.5 299.5h0M136.3 299.7h0M138.4 299.7h0M139.5 299.9h0M141.1 299.9h0M143.2 299.4h0M145.1 299.2h0M146.1 299.4h0M148.3 299.7h0M149.8 299.7h0M152.2 300.1h0M153.7 299.4h0M155.2 299.9h0M157.3 300.1h0M158.5 299.4h0M160.2 299.9h0M132.3 301.3h0M133.5 301.4h0M135.3 301.3h0M136.8 300.8h0M138.7 301.0h0M140.2 301.7h0M142.5 301.1h0M144.6 300.8h0M145.7 301.6h0M148.0 301.5h0M149.0 301.3h0M150.6 300.8h0M153.2 300.7h0M154.2 300.8h0M156.5 301.3h0M157.8 301.1h0M129.6 302.5h0M130.5 302.9h0M132.3 302.9h0M134.2 302.3h0M136.4 303.1h0M137.8 302.5h0M140.3 302.5h0M141.3 302.7h0M143.1 302.5h0M145.6 302.4h0M147.2 302.8h0M148.2 302.5h0M150.6 302.9h0M152.0 302.6h0M154.4 303.0h0M156.0 303.2h0M126.2 304.2h0M128.6 304.3h0M130.0 304.7h0M132.4 304.8h0M134.0 304.3h0M135.7 304.1h0M137.0 304.1h0M139.3 304.8h0M141.1 304.2h0M142.9 304.3h0M144.8 304.4h0M146.1 304.2h0M147.7 304.3h0M149.7 304.4h0M151.9 304.8h0M153.8 304.5h0M123.6 305.7h0M125.6 305.6h0M126.8 306.1h0M128.6 306.3h0M130.8 306.0h0M132.8 305.6h0M133.9 306.0h0M136.3 305.6h0M137.6 306.4h0M138.9 306.2h0M141.1 305.9h0M142.7 306.4h0M144.3 306.0h0M146.2 305.5h0M148.1 305.6h0M150.0 306.5h0M151.6 306.4h0M121.2 307.4h0M122.9 307.8h0M124.2 307.9h0M126.1 307.6h0M127.8 307.4h0M130.2 307.9h0M131.1 307.9h0M133.7 307.8h0M135.2 307.4h0M137.0 307.5h0M138.9 307.8h0M140.1 308.0h0M142.3 307.3h0M143.5 307.1h0M145.8 307.2h0M147.0 307.8h0M148.8 307.4h0M265.5 18.6h0M265.6 20.5h0M265.4 21.6h0M265.6 23.7h0M266.3 24.7h0M265.5 26.2h0M266.3 28.4h0M266.2 29.8h0M266.0 31.4h0M265.5 33.2h0M266.3 34.7h0M266.0 18.6h0M265.7 34.6h0M268.0 19.0h0M267.8 20.4h0M268.0 22.2h0M267.4 23.8h0M267.0 25.2h0M267.9 26.8h0M267.6 28.5h0M268.0 29.8h0M267.7 31.6h0M267.2 32.9h0M267.6 34.6h0M267.5 18.8h0M267.6 35.0h0M269.5 18.3h0M269.1 20.2h0M268.6 21.8h0M269.4 23.2h0M269.2 24.9h0M269.0 26.7h0M268.5 28.5h0M268.9 29.6h0M268.6 31.9h0M269.5 33.0h0M268.7 34.8h0M269.0 18.7h0M268.5 35.7h0M270.0 18.4h0M270.4 19.8h0M270.2 22.1h0M270.8 23.0h0M271.0 24.9h0M271.1 26.4h0M270.3 28.3h0M270.5 29.6h0M270.5 31.5h0M270.3 33.2h0M270.8 34.8h0M270.5 18.6h0M270.7 34.6h0M271.6 18.5h0M272.0 20.1h0M271.6 22.0h0M272.6 23.2h0M271.9 24.8h0M272.0 26.8h0M272.0 28.0h0M272.2 30.0h0M272.1 31.7h0M272.5 33.1h0M272.5 34.5h0M272.0 18.8h0M271.9 34.5h0M274.0 19.0h0M273.5 20.1h0M273.3 22.2h0M273.4 23.2h0M273.9 25.1h0M273.4 27.0h0M273.8 27.9h0M274.1 29.8h0M273.1 31.8h0M273.4 33.2h0M273.8 34.4h0M273.5 18.7h0M274.1 35.2h0M275.0 18.2h0M275.6 20.3h0M274.9 22.0h0M275.4 23.5h0M274.7 24.6h0M275.4 26.9h0M274.8 28.1h0M274.9 29.6h0M275.5 31.4h0M275.3 33.1h0M274.5 34.2h0M275.0 18.6h0M274.6 35.1h0M277.1 19.1h0M276.8 20.2h0M276.3 22.1h0M276.3 23.8h0M276.8 24.8h0M276.9 26.4h0M276.3 28.7h0M276.7 30.2h0M277.0 31.4h0M276.9 33.0h0M276.0 34.4h0M276.5 18.7h0M276.1 35.3h0M278.4 18.6h0M278.3 20.2h0M277.8 22.1h0M277.9 23.9h0M277.8 24.9h0M278.5 27.0h0M277.6 28.2h0M278.0 29.6h0M277.8 31.8h0M278.3 32.9h0M277.8 34.6h0M278.0 18.7h0M278.2 34.4h0M279.0 18.9h0M279.7 20.8h0M279.6 22.3h0M279.5 23.4h0M279.4 25.3h0M279.5 27.1h0M279.5 28.4h0M279.5 30.1h0M278.9 31.5h0M279.6 33.4h0M279.4 35.0h0M279.5 18.8h0M279.5 34.9h0M281.4 19.0h0M281.3 20.0h0M281.2 21.8h0M281.5 23.0h0M281.3 25.0h0M281.4 26.7h0M280.4 28.4h0M281.0 29.6h0M280.5 31.3h0M281.1 33.0h0M280.4 34.3h0M281.0 18.6h0M281.2 35.2h0M282.4 18.6h0M282.9 20.1h0M282.0 21.9h0M282.4 23.3h0M283.0 25.0h0M282.0 26.9h0M282.1 28.2h0M282.4 29.8h0M282.7 31.3h0M282.7 32.9h0M282.6 35.2h0M282.5 18.8h0M282.8 35.9h0M283.6 18.6h0M284.3 20.0h0M284.2 21.8h0M284.5 23.4h0M283.8 24.9h0M284.0 27.1h0M284.0 28.5h0M284.0 29.6h0M284.1 31.6h0M284.1 33.0h0M283.7 34.6h0M284.0 18.7h0M283.4 34.5h0M285.5 19.0h0M285.7 20.2h0M285.8 21.8h0M285.0 23.6h0M285.7 25.2h0M285.9 26.9h0M285.9 27.9h0M286.1 29.9h0M285.6 31.5h0M285.2 32.9h0M286.0 34.7h0M285.5 18.6h0M286.1 34.6h0M287.1 18.4h0M287.2 20.2h0M286.9 21.7h0M287.1 23.7h0M287.5 25.4h0M287.6 27.1h0M287.2 28.2h0M287.0 29.6h0M287.1 31.4h0M287.0 33.3h0M286.5 35.0h0M287.0 18.7h0M286.4 35.1h0M287.9 18.6h0M288.2 19.9h0M288.9 21.6h0M289.0 23.5h0M288.3 24.7h0M288.9 26.3h0M288.8 28.2h0M288.4 29.5h0M288.4 31.0h0M288.8 33.2h0M288.1 34.6h0M288.5 18.6h0M288.1 35.5h0M289.6 18.4h0M290.6 20.5h0M289.9 22.0h0M289.8 23.2h0M290.5 24.6h0M290.4 27.0h0M289.5 28.5h0M290.3 29.4h0M289.9 31.2h0M289.9 32.9h0M289.9 34.2h0M290.0 18.6h0M289.7 34.7h0M291.7 18.9h0M291.7 20.7h0M291.6 21.8h0M290.9 23.7h0M291.6 24.9h0M291.5 27.1h0M291.6 28.2h0M291.9 29.9h0M290.9 31.2h0M292.1 32.8h0M291.8 34.4h0M291.5 18.7h0M291.4 34.7h0M292.5 18.6h0M293.3 20.3h0M292.6 22.1h0M293.4 23.4h0M292.8 24.7h0M292.5 26.6h0M292.5 28.6h0M293.2 29.7h0M293.1 31.2h0M293.5 33.1h0M293.2 34.4h0M293.0 18.7h0M293.0 35.5h0M294.0 18.6h0M294.9 20.2h0M295.1 21.9h0M295.0 23.1h0M294.7 25.1h0M294.3 27.0h0M294.0 28.3h0M294.3 30.2h0M294.8 31.2h0M294.1 32.7h0M294.1 35.0h0M294.5 18.7h0M294.9 35.6h0M296.0 18.7h0M296.4 19.9h0M295.6 21.9h0M295.6 23.8h0M295.5 25.4h0M295.7 26.4h0M295.9 28.4h0M296.6 29.9h0M296.5 31.8h0M296.6 33.0h0M296.0 34.3h0M296.0 18.7h0M295.9 34.8h0M297.9 18.4h0M297.1 19.9h0M296.9 22.0h0M297.5 23.4h0M297.4 25.4h0M297.4 26.6h0M297.7 28.5h0M297.9 30.1h0M297.1 31.7h0M297.9 32.9h0M297.5 18.6h0M297.9 35.0h0M299.3 19.0h0M299.5 20.6h0M298.5 21.7h0M298.5 23.5h0M298.5 25.2h0M299.5 27.2h0M298.4 28.5h0M298.6 30.3h0M298.4 31.3h0M298.8 32.8h0M299.0 18.8h0M299.2 32.7h0M301.0 18.7h0M300.5 20.8h0M300.3 22.3h0M300.8 23.2h0M300.3 25.3h0M300.0 27.1h0M301.0 28.6h0M300.9 30.0h0M300.9 31.5h0M300.5 18.8h0M300.4 32.9h0M301.8 18.5h0M301.9 20.2h0M302.3 22.1h0M302.4 23.8h0M301.8 25.0h0M302.4 26.4h0M302.2 28.3h0M302.2 30.0h0M302.2 31.3h0M302.0 18.7h0M301.4 33.3h0M303.5 18.9h0M303.0 20.4h0M303.6 22.2h0M303.2 23.3h0M304.1 25.5h0M303.1 27.1h0M303.9 28.2h0M303.9 29.9h0M303.3 31.3h0M303.5 18.8h0M303.6 32.6h0M304.5 18.9h0M304.8 20.1h0M305.2 21.7h0M305.5 23.6h0M305.3 25.0h0M304.9 26.5h0M304.7 28.2h0M305.3 29.9h0M305.4 31.2h0M305.0 18.7h0M304.7 31.4h0M306.0 18.9h0M306.7 20.2h0M307.1 22.4h0M306.2 23.3h0M306.7 25.2h0M306.6 26.9h0M307.0 28.6h0M306.3 30.2h0M306.4 32.0h0M306.5 18.8h0M306.5 31.3h0M307.7 19.1h0M308.1 20.6h0M308.3 22.3h0M308.4 23.7h0M307.8 25.2h0M307.7 26.7h0M308.0 28.4h0M307.7 29.9h0M307.8 31.4h0M308.0 18.8h0M308.1 31.3h0M309.1 18.8h0M309.2 19.9h0M309.9 21.8h0M309.9 23.3h0M309.3 25.1h0M309.0 27.0h0M309.1 28.6h0M309.7 30.0h0M309.2 31.7h0M309.5 18.6h0M309.5 31.8h0M310.6 18.9h0M311.6 20.1h0M311.3 22.0h0M311.0 23.4h0M311.1 24.9h0M311.3 26.5h0M311.0 28.0h0M311.6 29.5h0M311.3 31.5h0M311.0 18.6h0M310.8 32.7h0M312.2 18.4h0M312.7 20.2h0M312.8 22.0h0M311.9 23.4h0M312.4 25.1h0M312.5 26.4h0M311.9 28.0h0M312.4 29.6h0M312.4 31.5h0M312.5 18.6h0M312.3 32.4h0M313.9 18.6h0M314.5 20.3h0M314.6 21.5h0M314.5 23.2h0M314.5 24.7h0M314.4 26.8h0M314.2 28.2h0M313.9 29.6h0M313.6 31.6h0M314.0 18.7h0M313.8 30.9h0M315.1 18.4h0M315.4 20.5h0M315.6 22.0h0M315.0 23.6h0M315.9 25.4h0M315.8 26.7h0M316.1 27.9h0M315.9 30.0h0M315.8 31.3h0M315.5 18.6h0M315.0 31.1h0M316.8 19.1h0M316.5 20.6h0M317.0 21.8h0M316.7 23.4h0M316.8 24.9h0M316.7 27.1h0M316.9 28.5h0M317.2 29.8h0M317.5 31.4h0M317.0 18.8h0M316.6 30.9h0M318.0 18.7h0M318.6 19.8h0M319.0 22.0h0M318.6 23.8h0M318.5 24.8h0M318.8 27.0h0M318.0 28.2h0M318.2 30.2h0M318.0 31.7h0M318.5 18.6h0M318.1 32.0h0M320.3 18.4h0M320.0 20.1h0M319.6 21.7h0M319.6 23.9h0M320.1 25.0h0M320.0 26.4h0M319.7 28.5h0M320.2 30.1h0M320.6 31.9h0M320.0 18.8h0M320.4 31.6h0M321.2 19.1h0M321.2 20.8h0M320.9 22.2h0M321.5 23.8h0M321.5 25.4h0M321.8 26.9h0M322.0 28.1h0M322.0 30.0h0M321.7 31.7h0M321.5 18.8h0M321.4 31.7h0M323.0 19.2h0M322.4 20.5h0M323.2 22.0h0M322.5 23.9h0M323.3 25.1h0M322.5 27.1h0M323.3 28.7h0M323.4 29.9h0M323.1 31.6h0M323.0 18.8h0M322.9 31.5h0M325.1 18.7h0M324.3 20.5h0M324.7 21.9h0M324.7 23.7h0M324.8 24.9h0M324.7 26.7h0M325.0 28.4h0M324.9 30.2h0M324.2 31.2h0M324.5 18.8h0M324.8 30.8h0M326.2 18.8h0M326.2 20.1h0M326.2 22.4h0M325.4 24.0h0M325.8 25.2h0M326.5 27.1h0M325.9 28.8h0M325.4 30.2h0M326.0 31.9h0M326.0 18.8h0M325.4 31.3h0M327.0 18.8h0M327.9 20.6h0M327.1 21.9h0M328.1 23.2h0M327.7 24.9h0M328.0 26.8h0M328.0 27.9h0M327.6 29.8h0M327.0 31.4h0M327.5 18.7h0M327.8 31.8h0M328.7 18.7h0M328.9 20.7h0M329.5 21.9h0M329.0 23.4h0M329.1 24.8h0M329.6 26.7h0M328.4 28.2h0M329.5 29.8h0M328.9 31.9h0M329.0 18.7h0M329.3 31.3h0M330.4 18.5h0M331.0 20.2h0M331.0 22.2h0M330.9 23.3h0M330.4 25.0h0M330.7 26.9h0M330.9 28.0h0M330.8 29.7h0M330.8 31.0h0M330.5 18.6h0M330.9 31.9h0M331.7 18.4h0M332.0 20.5h0M332.6 21.9h0M331.5 23.8h0M332.6 24.7h0M332.2 26.7h0M332.2 28.4h0M331.4 29.6h0M331.8 31.5h0M332.0 18.6h0M331.5 31.2h0M333.0 18.6h0M333.1 20.2h0M333.1 22.0h0M333.0 23.6h0M333.7 24.7h0M333.4 26.5h0M333.4 28.3h0M332.9 29.5h0M333.7 31.1h0M333.5 18.6h0M333.9 31.3h0M335.3 18.4h0M335.6 20.5h0M335.5 22.1h0M334.5 23.0h0M334.9 24.9h0M334.9 26.6h0M335.3 28.4h0M335.5 29.9h0M335.5 31.0h0M335.0 18.6h0M334.4 31.4h0M336.4 18.5h0M336.1 20.2h0M336.9 21.9h0M336.9 24.0h0M336.8 25.6h0M336.2 26.6h0M336.2 28.0h0M337.0 29.8h0M336.5 18.8h0M336.7 31.1h0M337.9 18.9h0M337.6 20.1h0M337.6 21.8h0M338.4 23.9h0M337.4 25.4h0M338.3 26.4h0M337.6 28.6h0M337.6 30.2h0M338.0 31.9h0M338.0 18.7h0M338.0 30.8h0M339.4 18.4h0M339.9 20.7h0M340.1 22.0h0M339.6 23.3h0M340.1 25.3h0M339.7 26.9h0M339.9 28.2h0M339.0 30.3h0M338.9 31.3h0M339.5 18.7h0M339.5 30.6h0M341.4 18.7h0M341.1 19.9h0M340.9 21.5h0M340.9 23.4h0M340.9 24.9h0M341.3 26.6h0M341.5 28.1h0M340.6 29.7h0M341.4 31.3h0M341.0 18.6h0M341.4 31.8h0M342.1 18.3h0M342.4 20.4h0M342.3 22.2h0M341.9 23.7h0M342.1 25.4h0M342.0 27.0h0M342.4 28.1h0M341.9 29.6h0M342.4 31.8h0M342.5 18.6h0M343.1 30.7h0M343.4 18.4h0M344.1 20.3h0M344.5 22.2h0M343.6 23.6h0M344.4 25.3h0M344.1 26.7h0M344.1 28.2h0M344.1 30.2h0M344.0 18.7h0M343.8 31.3h0M345.9 18.5h0M345.4 20.5h0M345.4 22.2h0M345.5 23.2h0M345.3 24.8h0M345.4 26.6h0M345.3 28.5h0M346.0 30.1h0M345.5 18.7h0M345.8 32.0h0M346.6 19.1h0M346.6 20.2h0M347.3 21.7h0M347.6 24.0h0M346.4 25.3h0M347.5 26.9h0M347.0 28.5h0M347.1 30.1h0M347.0 18.8h0M347.2 31.8h0M348.2 18.2h0M348.0 19.9h0M349.0 21.6h0M348.6 23.2h0M349.1 24.7h0M348.4 26.5h0M348.2 27.8h0M348.4 29.5h0M348.5 18.6h0M347.9 31.3h0M349.4 18.7h0M350.0 20.4h0M349.8 21.6h0M350.2 23.4h0M350.5 24.9h0M349.7 26.4h0M349.7 28.0h0M350.0 29.8h0M350.0 18.7h0M350.6 29.7h0M351.3 18.8h0M352.1 20.7h0M352.0 22.1h0M351.3 23.8h0M351.7 24.9h0M351.0 27.2h0M351.8 28.7h0M351.5 18.8h0M351.1 30.8h0M352.6 18.5h0M352.8 19.9h0M353.4 22.1h0M352.6 23.5h0M353.4 24.9h0M353.0 26.4h0M353.0 28.1h0M353.0 18.6h0M353.4 29.0h0M355.0 18.3h0M354.6 20.3h0M354.3 22.1h0M354.3 23.1h0M354.0 25.3h0M354.2 26.9h0M354.4 28.5h0M354.5 18.6h0M354.0 30.1h0M356.3 18.6h0M356.6 20.7h0M355.7 22.4h0M355.5 23.3h0M355.4 25.3h0M355.9 26.5h0M356.0 28.7h0M356.0 18.8h0M355.5 29.4h0M357.5 18.5h0M357.2 19.8h0M357.6 21.8h0M357.7 23.1h0M358.1 24.6h0M357.1 26.7h0M357.1 28.0h0M357.5 18.6h0M357.5 29.4h0M358.8 18.9h0M358.4 20.7h0M359.2 22.3h0M358.7 23.6h0M359.3 24.8h0M359.4 27.0h0M359.3 28.1h0M359.0 18.8h0M359.3 28.9h0M360.1 18.9h0M360.4 20.0h0M360.3 21.9h0M360.1 23.1h0M360.7 25.3h0M360.7 27.0h0M360.2 28.1h0M360.5 18.6h0M360.3 28.3h0M362.4 18.5h0M361.9 20.2h0M362.6 21.7h0M362.2 23.3h0M362.4 24.9h0M361.4 26.6h0M361.8 28.0h0M362.0 18.6h0M361.8 27.7h0M363.6 18.9h0M363.6 20.3h0M363.5 22.0h0M364.0 23.4h0M363.1 24.8h0M363.3 26.8h0M363.6 28.6h0M363.5 18.8h0M363.7 27.9h0M364.8 18.4h0M365.1 20.5h0M364.5 21.9h0M364.5 23.7h0M365.1 24.7h0M365.0 26.5h0M364.6 28.4h0M365.0 18.7h0M364.9 29.4h0M366.9 18.8h0M367.0 20.1h0M366.8 21.9h0M366.9 23.2h0M366.6 24.9h0M366.3 26.9h0M366.1 28.6h0M366.5 18.8h0M366.5 28.1h0M367.9 18.3h0M368.3 20.5h0M368.5 22.3h0M367.8 23.6h0M368.1 24.8h0M368.3 26.5h0M367.9 28.4h0M368.0 18.7h0M368.0 28.2h0M369.0 18.9h0M369.1 20.8h0M370.0 22.2h0M370.0 23.8h0M369.7 25.4h0M370.0 26.6h0M369.8 28.2h0M369.5 18.8h0M369.5 28.3h0M371.2 19.1h0M371.4 20.0h0M370.6 21.6h0M371.3 23.4h0M371.6 24.9h0M371.5 26.9h0M371.3 28.4h0M371.0 18.7h0M371.5 28.1h0M373.0 18.9h0M372.7 20.2h0M372.5 22.1h0M372.3 23.2h0M373.0 25.5h0M372.3 26.8h0M372.6 28.8h0M372.5 18.8h0M372.6 29.0h0M373.5 18.9h0M374.5 20.7h0M374.5 21.7h0M374.3 23.4h0M374.5 25.4h0M373.9 26.9h0M374.0 28.7h0M374.0 18.8h0M374.1 27.8h0M374.9 18.4h0M375.5 20.3h0M375.0 21.8h0M375.2 23.3h0M375.4 24.7h0M374.9 26.5h0M375.8 28.7h0M375.5 18.7h0M375.8 27.8h0M377.4 19.1h0M377.3 20.2h0M377.0 21.9h0M376.4 23.6h0M376.7 25.6h0M377.2 27.0h0M376.4 28.6h0M377.0 18.8h0M377.4 28.5h0M378.5 18.7h0M378.4 20.1h0M378.7 22.1h0M378.2 23.7h0M378.0 25.2h0M378.3 26.6h0M378.3 27.9h0M378.5 18.6h0M378.1 29.5h0M380.5 18.7h0M380.5 20.2h0M380.6 21.9h0M379.7 23.2h0M379.5 24.8h0M380.2 26.6h0M380.4 28.0h0M380.0 18.7h0M380.5 28.0h0M381.3 18.4h0M381.4 20.5h0M381.0 21.6h0M381.0 23.7h0M381.0 25.0h0M381.9 26.5h0M381.0 28.0h0M381.5 18.6h0M382.0 27.9h0M382.5 18.5h0M383.3 20.5h0M382.8 22.2h0M382.6 23.9h0M383.1 25.6h0M383.1 26.9h0M383.4 28.5h0M383.0 18.8h0M382.5 28.8h0M384.7 19.0h0M384.6 20.5h0M384.3 21.4h0M384.0 23.1h0M384.2 24.9h0M384.3 26.8h0M384.8 28.5h0M384.5 18.6h0M384.8 29.2h0M386.0 18.7h0M385.5 20.0h0M386.4 21.7h0M386.4 23.5h0M385.5 25.4h0M386.3 27.2h0M386.1 28.7h0M386.0 18.8h0M386.0 28.2h0M387.7 19.0h0M387.9 20.6h0M387.5 21.8h0M387.5 23.8h0M387.3 24.7h0M387.4 26.8h0M387.9 28.6h0M387.5 18.7h0M387.7 29.2h0M389.4 18.9h0M389.5 20.7h0M388.4 21.7h0M389.6 23.7h0M388.6 25.5h0M388.5 26.8h0M388.9 28.2h0M389.0 18.8h0M388.7 27.9h0M390.0 18.8h0M390.3 20.5h0M391.0 22.2h0M390.8 23.7h0M390.0 25.4h0M390.6 26.7h0M390.7 28.0h0M390.5 18.7h0M390.5 27.9h0M392.0 18.5h0M392.6 20.5h0M392.3 22.3h0M392.2 23.6h0M391.7 24.9h0M392.1 26.5h0M391.8 28.7h0M392.0 18.8h0M392.5 29.2h0M394.0 18.3h0M394.0 20.4h0M394.1 22.2h0M393.5 23.3h0M394.0 24.9h0M393.3 26.7h0M393.1 28.2h0M393.5 18.6h0M393.1 28.5h0M395.5 19.2h0M395.3 20.6h0M394.9 22.3h0M394.6 23.4h0M394.5 25.1h0M394.5 27.0h0M394.6 28.6h0M395.0 18.8h0M395.1 28.9h0M396.8 18.7h0M396.6 20.2h0M396.5 21.6h0M397.0 23.9h0M396.0 24.8h0M396.4 26.8h0M396.5 28.2h0M396.5 18.8h0M396.6 28.4h0M397.4 18.7h0M397.5 20.6h0M398.0 21.8h0M398.2 23.8h0M397.6 25.0h0M398.6 27.0h0M397.9 28.2h0M398.0 18.7h0M398.4 27.9h0M399.6 18.6h0M399.6 20.4h0M400.0 21.7h0M399.3 23.7h0M399.2 25.3h0M399.7 26.9h0M399.7 27.9h0M399.5 18.6h0M399.8 28.6h0M400.5 18.4h0M400.6 19.9h0M401.4 22.2h0M401.6 23.5h0M401.1 24.7h0M400.5 26.8h0M401.1 28.3h0M401.0 18.6h0M401.3 29.2h0M401.9 18.8h0M402.9 20.6h0M403.0 22.0h0M402.5 23.2h0M402.5 25.2h0M403.0 27.1h0M402.0 28.1h0M402.5 18.8h0M402.4 29.1h0M404.3 18.7h0M404.5 20.1h0M403.9 21.4h0M404.0 23.6h0M404.0 25.0h0M404.5 26.8h0M403.8 28.6h0M404.0 18.6h0M404.3 28.2h0M405.7 18.6h0M405.6 19.9h0M405.8 22.1h0M405.4 23.3h0M406.1 25.4h0M405.0 26.6h0M405.4 28.0h0M405.5 18.6h0M405.5 28.9h0M406.8 19.0h0M407.2 20.1h0M406.6 21.8h0M407.5 23.7h0M406.7 25.1h0M406.4 27.0h0M407.5 28.0h0M407.0 18.7h0M406.8 28.2h0M408.7 18.5h0M407.9 20.0h0M408.7 22.0h0M407.9 23.4h0M408.7 25.1h0M408.7 26.8h0M408.3 28.5h0M408.5 18.6h0M408.4 27.8h0M409.8 18.9h0M409.8 20.3h0M410.1 22.1h0M409.8 23.7h0M409.7 25.4h0M409.7 26.4h0M409.4 28.4h0M410.0 18.7h0M409.8 28.7h0M411.4 18.9h0M412.0 19.9h0M412.0 21.8h0M411.8 23.8h0M411.1 24.9h0M412.0 26.7h0M412.0 28.5h0M411.5 18.6h0M412.1 28.9h0M413.5 18.3h0M412.6 20.1h0M412.6 21.5h0M413.2 23.7h0M412.7 24.9h0M413.2 26.4h0M413.0 28.5h0M413.0 18.6h0M412.5 28.6h0M414.8 18.4h0M414.9 20.1h0M415.0 21.7h0M414.5 23.1h0M414.2 24.9h0M415.0 26.7h0M414.9 28.5h0M414.5 18.6h0M414.0 28.2h0M416.3 18.9h0M415.9 20.4h0M415.4 21.7h0M415.8 23.3h0M415.7 25.4h0M416.3 27.0h0M416.1 28.7h0M416.0 18.8h0M415.7 28.8h0M418.0 18.6h0M417.2 20.5h0M417.9 22.1h0M417.8 23.2h0M417.6 25.1h0M418.0 26.6h0M417.2 28.1h0M417.5 18.7h0M417.5 29.4h0M419.3 18.7h0M418.9 20.7h0M418.9 21.7h0M419.3 23.3h0M418.9 25.2h0M419.4 26.4h0M419.2 28.1h0M419.0 18.8h0M419.2 28.7h0M420.4 18.7h0M421.0 20.2h0M420.5 21.6h0M420.4 23.1h0M421.0 25.0h0M421.0 26.4h0M420.7 28.4h0M420.5 18.7h0M420.7 29.1h0M422.3 18.2h0M421.8 20.5h0M422.1 22.1h0M422.4 23.3h0M421.7 24.7h0M421.5 26.7h0M422.4 27.8h0M422.0 18.6h0M422.0 29.1h0M423.4 19.1h0M423.4 20.2h0M423.5 21.8h0M423.4 23.5h0M423.0 25.2h0M423.6 26.9h0M423.2 28.0h0M423.5 18.7h0M423.7 28.3h0M424.7 18.6h0M424.7 20.3h0M425.2 21.7h0M424.8 23.5h0M425.2 25.0h0M424.5 26.7h0M424.9 28.7h0M425.0 18.7h0M425.1 27.7h0M426.0 18.6h0M425.9 20.4h0M426.1 22.3h0M426.1 23.9h0M427.0 25.2h0M426.5 26.7h0M426.8 28.1h0M426.5 18.7h0M426.3 27.7h0M427.6 19.0h0M427.9 20.1h0M427.7 21.6h0M427.5 23.1h0M428.3 24.8h0M428.4 27.1h0M428.5 28.0h0M428.0 18.7h0M428.4 28.7h0M429.3 18.9h0M429.6 20.2h0M429.6 22.2h0M429.9 23.9h0M428.9 25.4h0M429.3 27.0h0M429.1 28.3h0M429.5 18.8h0M429.4 28.8h0M431.4 18.3h0M430.7 20.5h0M430.7 22.2h0M430.8 23.7h0M430.5 25.5h0M430.5 26.7h0M430.9 28.2h0M431.0 18.7h0M431.0 28.5h0M433.1 19.0h0M432.8 20.1h0M432.2 21.6h0M432.0 23.8h0M432.0 25.0h0M432.4 26.5h0M432.3 28.2h0M432.5 18.8h0M432.4 27.9h0M434.5 18.8h0M434.3 20.0h0M434.5 22.0h0M433.9 23.2h0M434.4 24.6h0M434.1 26.9h0M434.5 28.5h0M434.0 18.6h0M433.9 27.6h0M435.2 18.7h0M435.8 20.6h0M435.3 21.7h0M435.0 23.7h0M435.5 24.8h0M435.5 26.6h0M435.9 28.0h0M435.5 18.7h0M435.5 28.3h0M436.6 18.4h0M436.9 20.2h0M437.3 22.1h0M436.5 23.8h0M436.9 25.2h0M436.8 26.8h0M437.2 27.8h0M437.0 18.6h0M437.4 27.6h0M438.2 18.8h0M438.1 20.4h0M438.8 22.0h0M438.9 23.4h0M438.7 25.1h0M439.0 26.4h0M438.9 27.9h0M438.5 18.7h0M438.9 27.7h0M439.5 19.0h0M439.7 20.0h0M440.4 22.0h0M440.4 23.8h0M439.5 24.8h0M440.3 27.0h0M439.6 28.7h0M440.0 18.8h0M439.4 28.9h0M441.4 18.6h0M441.3 20.3h0M441.5 21.7h0M440.9 23.6h0M441.1 24.8h0M441.2 26.5h0M441.5 18.7h0M441.9 27.6h0M442.4 18.9h0M443.5 20.5h0M443.3 21.9h0M443.0 23.9h0M442.7 25.1h0M443.3 26.6h0M443.0 18.7h0M443.0 26.7h0M444.1 18.6h0M444.2 20.5h0M444.4 22.3h0M444.9 23.9h0M444.7 24.9h0M444.3 26.6h0M444.5 18.8h0M444.1 27.1h0M446.0 18.5h0M446.3 20.8h0M446.0 21.7h0M446.3 23.6h0M446.4 25.3h0M446.4 26.4h0M446.0 18.8h0M446.2 26.9h0M447.2 18.9h0M447.2 20.6h0M447.0 21.7h0M448.0 23.8h0M447.2 25.0h0M447.5 18.8h0M447.4 25.9h0M449.6 18.4h0M449.3 20.4h0M449.3 21.6h0M448.7 23.5h0M449.6 24.9h0M449.0 18.6h0M448.7 25.9h0M450.3 18.8h0M450.2 20.2h0M450.7 21.5h0M450.1 23.8h0M450.9 25.3h0M450.5 18.6h0M450.6 25.5h0M286.0 18.2h0M310.2 17.9h0M286.7 17.8h0M363.9 17.8h0M346.2 18.1h0M297.8 18.4h0M284.2 17.6h0M371.7 17.7h0M292.0 17.6h0M268.4 18.1h0M307.5 18.2h0M413.7 17.6h0M387.0 17.8h0M361.2 17.8h0M307.5 18.4h0M352.0 18.3h0M267.8 17.7h0M325.9 17.6h0M354.2 18.1h0M282.9 17.6h0M372.7 18.2h0M347.4 17.9h0M276.0 18.1h0M293.1 17.9h0M355.9 18.2h0M431.1 18.1h0M276.5 18.0h0M369.4 17.9h0M318.3 18.2h0M337.5 17.9h0M435.7 18.2h0M381.9 17.5h0M318.3 18.2h0M349.1 18.3h0M446.6 18.2h0M425.6 17.9h0M344.3 18.0h0M363.5 17.8h0M350.3 18.3h0M293.7 18.0h0M444.1 17.9h0M308.2 17.5h0M306.3 17.6h0M286.3 17.9h0M439.3 18.1h0M434.3 18.3h0M383.2 17.8h0M363.3 17.9h0M372.9 18.0h0M334.2 17.8h0M429.7 18.0h0M368.6 17.7h0M423.5 18.1h0M393.8 18.1h0M390.9 17.6h0M389.5 17.9h0M408.8 17.5h0M415.7 18.3h0M391.7 17.6h0M325.0 18.3h0M314.4 17.7h0M302.1 17.9h0M423.5 18.3h0M355.4 18.1h0M266.1 18.0h0M376.2 17.9h0M424.9 18.0h0M435.0 18.4h0M438.7 17.5h0M425.8 18.1h0M408.4 29.1h0M439.3 31.3h0M446.1 30.0h0M327.5 32.2h0M433.8 29.6h0M376.9 30.8h0M398.3 29.7h0M336.9 33.8h0M321.6 32.2h0M386.9 29.7h0M435.5 30.1h0M362.8 30.7h0M443.0 27.9h0M405.9 29.2h0M302.8 33.1h0M440.1 28.7h0M316.9 33.9h0M333.3 33.7h0M384.4 29.3h0M440.9 29.8h0M320.2 34.1h0M344.6 33.3h0M306.8 36.2h0M313.2 33.2h0M364.6 31.2h0M386.4 28.9h0M376.7 28.8h0M307.1 32.8h0M364.3 29.0h0M366.6 29.8h0M440.3 29.1h0M349.1 31.1h0M395.0 29.8h0M373.2 29.0h0M416.7 30.6h0M390.6 29.4h0M448.8 27.4h0M395.6 30.2h0M351.3 30.6h0M363.1 29.0h0M428.4 31.0h0M355.2 30.7h0M439.0 30.9h0M366.1 31.2h0M441.5 28.2h0M322.5 33.6h0M417.6 30.1h0M366.7 30.4h0M334.0 33.7h0M388.6 30.4h0M308.9 34.2h0M330.0 32.9h0M427.1 29.4h0M378.6 28.8h0M350.7 34.6h0M321.6 34.8h0M324.1 33.4h0M334.5 34.0h0M369.1 29.4h0M303.0 32.7h0M330.8 31.7h0M364.2 31.3h0M432.4 31.5h0M429.8 29.3h0M440.3 28.8h0M333.8 32.9h0M318.6 35.1h0M427.4 30.7h0M404.8 28.9h0M337.0 31.9h0M365.0 32.5h0M438.7 31.0h0M422.5 30.2h0M440.4 30.0h0M374.1 30.6h0M328.9 32.9h0M380.9 29.3h0M317.0 35.7h0M317.6 32.4h0M313.6 32.7h0M337.8 33.9h0M324.6 34.3h0M338.7 35.8h0M404.3 30.1h0M400.8 30.3h0M469.7 21.8h0M468.1 23.9h0M466.7 24.0h0M473.6 21.8h0M468.0 21.6h0M461.2 23.2h0M467.4 21.0h0M468.9 21.9h0M453.2 23.5h0M464.4 24.3h0M476.1 19.3h0M457.7 23.1h0M455.8 23.9h0M469.5 24.3h0M460.2 23.0h0M467.5 22.8h0M477.5 20.7h0M456.7 23.7h0M454.4 22.3h0M476.9 23.6h0M470.1 18.9h0M478.4 21.3h0M458.4 19.4h0M454.2 19.4h0M466.2 21.1h0M458.5 23.8h0M452.3 21.6h0M473.3 23.5h0M470.6 21.8h0M454.6 21.4h0M471.1 23.3h0M467.7 24.1h0M466.4 23.8h0M476.2 19.6h0M454.2 24.8h0M458.6 21.6h0M462.3 23.9h0M450.4 22.0h0M463.4 19.5h0M462.9 24.0h0M451.5 20.6h0M467.6 22.0h0M472.0 20.7h0M453.6 21.3h0M474.1 21.2h0M461.5 23.5h0M467.0 19.7h0M461.0 24.3h0M450.8 23.6h0M458.9 23.4h0M454.8 22.9h0M474.9 19.1h0M477.8 19.3h0M450.4 24.0h0M464.9 19.1h0M469.0 21.8h0M478.9 24.3h0M475.5 21.7h0M392.3 32.9h0M426.0 34.0h0M432.6 36.0h0M447.0 30.6h0M440.0 29.0h0M472.0 32.0h0M475.0 30.6h0M479.4 28.6h0M474.0 26.0h0M485.6 25.0h0M487.0 17.6h0M492.6 17.4h0M492.0 21.4h0M496.0 23.4h0M496.6 27.0h0M502.0 26.0h0M502.4 22.6h0M505.0 19.6h0M507.6 21.4h0M481.0 24.0h0M483.0 21.0h0M498.0 19.2h0M489.5 21.5h0M480.5 19.0h0M318.0 38.5h0M334.0 36.5h0M343.5 37.5h0M352.0 35.0h0M363.0 33.5h0M377.0 33.2h0M404.0 33.5h0M412.0 32.5h0M456.0 28.0h0M463.0 27.4h0" fill="none" stroke="#00aa00" stroke-width="4.6" stroke-linecap="round"/>
</g>
<g id="abnormal" fill="none" stroke="#ff0000" stroke-linecap="round">
<path d="M303.5 35.4h0M307.7 37.2h0M304.8 41.0h0M309.5 40.1h0M316.1 38.2h0M319.9 36.3h0M321.8 39.1h0M326.5 35.4h0M332.1 35.4h0M333.1 39.1h0M339.7 34.4h0M345.3 34.4h0M338.7 38.6h0M346.8 39.7h0M356.3 39.7h0M359.5 42.9h0M367.9 42.9h0M314.3 42.9h0M319.9 43.8h0M326.1 43.3h0M320.8 47.6h0M308.6 47.6h0M309.2 51.4h0M297.3 45.7h0M301.1 48.5h0M294.5 49.5h0M290.7 52.3h0M288.8 55.1h0M292.6 56.1h0M296.4 58.0h0M302.0 54.2h0M302.0 50.4h0M328.4 51.4h0M333.1 47.6h0M338.7 51.4h0M342.5 55.1h0M346.3 55.1h0M334.0 58.5h0M320.5 56.1h0M357.0 57.4h0M290.7 64.5h0M284.1 64.5h0M283.2 68.3h0M286.0 67.4h0M300.1 62.7h0M314.3 63.6h0M299.2 68.3h0M301.1 70.2h0M299.2 73.0h0M318.6 70.2h0M316.1 74.3h0M319.0 74.0h0M328.4 72.1h0M332.1 68.3h0M333.1 74.3h0M292.2 74.9h0M280.4 75.5h0M281.3 79.6h0M279.4 81.5h0M305.8 78.7h0M290.7 81.5h0M298.2 85.3h0M311.4 84.3h0M309.5 87.1h0M280.4 86.2h0M276.6 87.1h0M277.5 91.3h0M290.7 92.8h0M295.4 93.2h0M300.1 93.7h0M304.8 93.2h0M329.9 92.8h0M358.5 95.1h0M369.2 79.6h0M379.4 38.8h0M371.3 47.7h0M370.8 50.1h0M400.3 36.7h0M399.8 41.5h0M400.3 45.5h0M402.5 45.5h0M415.6 38.3h0M413.8 44.2h0M427.7 44.2h0M433.1 44.2h0M454.6 42.3h0M479.6 38.3h0M481.5 35.6h0M417.0 56.8h0M413.0 76.5h0M455.4 83.2h0M397.6 95.3h0M466.7 106.8h0M382.8 117.3h0M274.2 98.9h0M276.3 98.9h0M280.4 102.1h0M302.4 94.6h0M287.6 98.1h0M331.5 102.9h0M313.7 104.2h0M286.8 108.8h0M291.1 111.0h0M297.0 108.3h0M297.8 110.2h0M305.6 109.6h0M315.3 113.4h0M289.0 114.7h0M303.0 114.2h0M305.9 116.1h0M297.6 116.9h0M276.1 117.4h0M280.1 116.9h0M268.8 120.1h0M267.5 121.7h0M309.9 120.9h0M350.3 116.1h0M336.0 124.4h0M330.6 129.0h0M317.2 127.6h0M267.5 127.1h0M297.8 130.9h0M359.7 133.0h0M259.4 138.4h0M260.2 140.3h0M278.2 139.7h0M280.1 138.4h0M292.2 141.1h0M259.4 145.1h0M266.1 155.9h0M288.4 154.0h0M302.4 155.1h0M251.3 170.1h0M271.5 175.2h0M285.5 176.0h0M306.5 183.3h0M376.9 169.8h0M314.1 196.1h0M288.3 199.4h0M291.8 213.1h0M320.6 219.0h0M365.8 222.5h0M331.6 231.1h0M343.7 233.0h0M320.1 235.1h0M267.1 233.0h0M230.0 229.2h0M231.9 236.5h0M260.4 241.8h0M245.6 247.2h0M293.7 245.3h0M287.8 247.2h0M275.7 250.4h0M286.5 253.4h0M364.9 240.5h0M338.3 249.1h0M359.8 249.4h0M369.0 249.1h0M333.5 257.2h0M324.6 259.8h0M316.0 260.1h0M349.6 262.0h0M237.5 261.5h0M277.8 263.3h0M317.9 276.8h0M353.7 274.6h0M265.3 283.6h0M241.1 288.2h0M229.7 292.7h0M222.0 297.1h0M230.7 304.2h0M274.2 291.2h0M278.0 284.9h0M279.5 283.6h0M296.3 287.2h0M283.6 304.5h0M380.6 217.8h0M375.8 224.8h0M374.2 234.5h0M371.5 247.9h0M456.4 281.7h0M169.6 243.0h0M170.6 245.0h0M175.6 247.7h0M166.1 253.7h0M170.2 255.1h0M151.8 258.1h0M158.9 260.8h0M164.9 260.8h0M162.1 265.8h0M149.0 269.6h0M160.1 269.6h0M163.5 271.7h0M154.4 277.7h0M154.0 279.9h0M147.4 287.0h0M145.4 288.4h0M143.3 291.4h0M144.0 293.4h0M136.9 290.8h0M136.3 293.4h0M133.9 295.4h0M132.7 298.5h0M139.3 297.5h0M140.3 299.5h0M130.2 302.1h0M134.3 302.9h0M125.2 304.1h0M138.3 301.5h0M171.6 295.4h0M169.6 298.5h0M174.6 298.5h0M167.5 301.5h0M172.6 301.5h0M176.6 300.5h0M164.5 304.5h0M169.6 304.5h0M174.6 304.1h0M179.6 302.5h0M160.5 306.5h0M155.4 308.5h0M182.7 297.5h0M184.7 295.4h0M188.1 298.5h0M189.3 307.5h0M194.8 306.5h0M180.6 291.4h0M182.7 287.4h0M185.7 288.4h0M188.7 287.4h0M191.7 281.3h0M193.1 286.4h0M197.8 279.3h0M198.8 291.4h0M196.8 273.3h0M203.9 268.6h0M199.1 274.6h0M200.3 276.6h0M216.0 277.8h0M186.9 285.5h0M201.5 289.2h0M206.3 292.1h0M186.9 300.1h0M199.5 301.8h0M207.5 306.8h0M194.2 308.5h0M173.6 296.4h0M172.4 303.7h0M177.3 306.1h0M182.1 309.7h0M176.1 229.1h0M171.9 233.5h0M182.1 237.1h0M216.2 151.2h0M221.7 153.6h0M218.8 155.3h0M214.5 166.5h0M218.1 166.5h0M201.9 173.0h0M209.6 172.5h0M212.1 174.2h0M215.7 173.0h0M210.8 176.2h0M214.5 175.4h0M209.2 185.1h0M207.2 186.8h0M204.3 187.5h0M198.7 196.7h0M193.4 201.6h0M199.5 202.5h0M197.5 208.1h0M192.7 219.0h0M190.3 220.2h0M188.6 223.4h0M164.1 231.1h0M212.1 171.8h0M250.0 51.2h0M250.5 56.1h0M246.2 62.8h0M249.3 65.3h0M240.8 82.7h0M242.8 83.2h0M239.2 96.7h0M240.8 98.4h0M234.8 115.9h0M230.0 127.5h0M219.1 131.8h0M225.1 132.3h0M226.3 134.7h0M228.7 136.0h0M223.9 134.7h0M286.9 62.1h0M255.1 42.2h0M252.4 55.1h0M167.5 306.9h0M158.5 307.0h0M158.9 305.0h0M155.3 303.3h0M162.3 307.5h0M167.1 303.4h0M163.0 304.3h0M157.4 304.7h0M165.2 308.1h0M155.6 304.3h0M166.3 305.5h0M160.4 307.3h0M154.3 308.2h0M158.5 307.6h0M167.8 307.5h0M164.2 306.4h0M154.8 305.1h0M164.3 304.1h0M165.2 305.8h0M165.0 307.6h0M159.5 306.2h0M154.8 307.3h0M167.5 306.6h0M165.4 305.9h0M159.4 307.3h0M156.2 306.0h0M155.8 307.0h0M162.3 306.3h0M156.8 305.0h0M164.9 305.1h0M165.9 303.0h0M159.9 303.1h0M166.2 304.9h0M166.3 307.0h0M154.6 306.2h0M167.3 308.0h0M155.5 303.1h0M161.3 307.0h0M155.8 308.5h0M165.8 302.6h0M166.3 305.1h0M156.9 306.5h0M165.8 306.2h0M158.2 303.6h0M155.0 303.5h0M165.8 300.0h0M161.1 303.1h0M163.0 298.5h0M163.3 300.7h0M170.0 298.5h0M162.4 298.2h0M166.4 304.0h0M172.5 303.1h0" stroke-width="4.6"/>
<path d="M77.8 311.6h0M78.7 311.7h0M79.6 311.8h0M80.8 312.1h0M81.7 311.6h0M83.1 311.7h0M84.3 311.7h0M84.9 311.8h0M86.7 311.7h0M87.7 311.9h0M88.9 311.6h0M89.8 311.7h0M90.7 311.8h0M91.8 311.8h0M92.6 311.9h0M94.1 311.7h0M95.2 311.9h0M96.5 311.7h0M96.9 311.7h0M98.8 311.9h0M99.9 311.8h0M100.4 311.8h0M101.7 311.6h0M102.7 311.7h0M104.1 311.8h0M105.2 311.7h0M106.3 311.6h0M107.0 311.7h0M108.7 311.7h0M109.5 311.6h0M110.6 311.9h0M111.7 311.6h0M112.4 311.7h0M114.0 311.8h0M114.5 311.7h0M116.2 311.7h0M116.9 311.5h0M118.2 311.7h0M119.4 311.8h0M120.7 311.8h0M121.5 311.7h0M122.9 311.8h0M123.6 311.7h0M124.7 311.7h0M126.2 311.8h0M127.0 311.7h0M128.2 311.7h0M128.9 311.9h0M130.6 312.0h0M131.2 311.5h0M132.2 311.9h0M133.9 312.0h0M134.5 311.7h0M135.5 311.6h0M137.1 311.6h0M138.4 311.8h0M139.0 311.6h0M140.1 311.5h0M141.1 311.5h0M142.1 311.8h0M143.7 311.7h0M144.7 311.7h0M145.8 311.7h0M146.7 311.9h0M147.7 311.7h0M148.8 311.8h0M149.9 311.9h0M151.1 311.8h0M152.2 311.6h0M153.6 312.0h0M154.4 311.6h0M155.9 311.6h0M156.6 311.8h0M158.2 311.6h0M158.6 311.7h0M159.6 311.9h0M161.3 311.8h0M162.3 311.7h0M163.4 311.9h0M164.5 311.7h0M165.5 311.6h0M166.6 311.9h0M168.0 311.9h0M168.6 311.8h0M169.8 311.8h0M170.8 311.8h0M172.1 311.7h0M173.2 311.5h0M174.0 311.8h0M175.8 311.7h0M176.5 311.8h0M177.7 311.7h0M179.1 311.9h0M180.1 311.8h0M181.3 311.7h0M182.1 311.5h0M183.0 311.7h0M183.9 311.9h0M185.3 312.0h0M186.1 311.9h0M187.6 311.8h0M188.2 311.7h0M190.0 311.5h0M191.0 311.6h0M192.2 311.8h0M192.9 311.7h0M194.0 311.8h0M195.1 311.8h0M196.3 311.9h0M197.3 311.9h0M198.5 311.8h0M199.6 311.8h0M200.9 311.9h0M201.7 311.8h0M202.6 311.7h0M203.7 311.8h0M204.8 311.8h0M205.9 312.0h0M207.2 311.8h0M208.5 311.5h0M209.9 311.6h0M210.5 312.0h0M211.8 311.5h0M212.4 311.8h0M214.3 311.7h0M214.9 311.7h0M215.8 312.0h0M217.5 311.7h0M217.9 311.6h0M219.3 311.7h0M220.6 311.7h0M221.5 311.8h0M222.9 311.7h0M223.6 311.7h0M225.0 311.7h0M226.2 311.7h0M227.4 311.6h0M228.3 311.6h0M229.7 311.7h0M230.7 311.9h0M231.6 311.8h0M232.9 311.7h0M234.1 311.7h0M234.9 311.7h0M236.0 311.7h0M237.3 312.0h0M237.8 311.8h0M239.3 311.7h0M240.4 311.6h0M241.4 311.9h0M242.7 311.8h0M243.9 312.0h0M245.0 311.9h0M245.8 311.7h0M246.7 311.8h0M248.0 311.5h0M248.8 311.7h0M250.6 311.7h0M251.3 311.7h0M252.1 311.6h0M253.8 311.7h0M254.4 311.5h0M255.9 311.9h0M257.1 311.6h0M258.2 311.6h0M259.3 312.0h0M260.3 311.7h0M261.5 311.9h0M262.6 311.9h0M263.4 311.7h0M264.6 311.7h0M265.3 311.6h0M266.6 311.8h0M268.1 312.0h0M268.6 311.8h0M270.2 311.6h0M271.3 312.0h0M271.8 311.7h0M273.0 311.9h0M274.4 311.8h0M275.8 311.7h0M276.4 311.9h0M277.8 312.0h0M278.8 311.8h0M279.8 311.9h0M280.8 311.6h0M282.0 311.7h0M283.3 311.7h0M284.1 311.7h0M285.1 311.9h0M286.2 311.7h0M287.8 311.7h0M288.4 311.8h0M289.9 311.7h0M290.8 311.5h0M292.1 311.7h0M293.3 311.5h0M294.0 311.9h0M295.6 311.8h0M296.6 311.8h0M297.9 311.7h0M298.5 311.7h0M299.4 311.9h0M300.6 311.7h0M301.8 311.9h0M302.9 311.8h0M304.1 311.8h0M305.0 311.8h0M306.0 311.6h0M307.7 311.6h0M308.1 311.8h0M309.8 311.6h0M310.8 311.7h0M311.6 311.7h0M312.6 311.8h0M314.4 311.7h0M315.2 311.9h0M316.5 311.7h0M316.9 311.6h0M318.6 311.7h0M319.1 311.5h0M320.3 311.8h0M321.9 312.0h0M322.6 311.7h0M324.0 311.8h0M324.8 311.9h0M326.2 311.7h0M327.2 312.3h0M328.7 311.9h0M329.4 311.9h0M330.6 311.8h0M332.0 311.8h0M332.5 311.8h0M334.1 311.5h0M335.0 311.6h0M336.4 311.7h0M336.8 311.7h0M338.6 311.9h0M339.4 311.9h0M340.1 311.8h0M341.2 311.8h0M342.6 311.7h0M343.7 311.7h0M344.7 311.7h0M346.0 311.7h0M347.3 311.6h0M348.4 311.7h0M349.3 311.9h0M350.5 311.5h0M351.1 311.7h0M352.4 312.1h0M353.6 311.8h0M354.8 311.8h0M355.8 311.7h0M357.0 311.7h0M357.7 312.0h0M358.8 311.9h0M360.0 311.9h0M361.2 311.9h0M362.2 311.7h0M363.3 311.8h0M364.4 311.6h0M366.1 311.7h0M367.1 311.5h0M367.9 311.7h0M368.7 311.5h0M370.0 311.5h0M371.6 311.8h0M372.1 311.9h0M373.6 311.9h0M374.9 311.6h0M323.9 312.9h0M235.4 313.3h0M233.4 312.7h0M250.8 313.3h0M146.2 313.1h0M191.0 313.5h0M134.7 312.5h0M281.5 313.6h0M162.8 312.9h0M115.8 312.6h0M302.4 313.0h0M166.0 312.5h0M317.6 313.6h0M191.3 312.8h0M242.7 312.5h0M276.5 312.5h0M209.0 313.3h0M316.0 312.4h0M282.4 312.8h0M302.9 313.0h0M212.9 312.4h0M112.4 313.1h0M123.2 312.7h0M116.5 313.0h0M213.6 313.0h0M317.7 312.5h0M218.2 312.4h0M187.5 313.7h0M108.2 313.1h0M173.8 312.5h0M126.1 313.5h0M194.1 312.6h0M194.7 312.8h0M313.6 313.1h0M179.0 313.2h0M300.8 312.9h0M90.5 312.9h0M166.5 312.5h0M260.5 313.9h0M191.7 312.4h0M172.8 309.7h0M144.8 310.1h0M140.8 308.4h0M198.5 310.9h0M184.3 310.0h0M131.9 310.8h0M196.4 310.5h0M123.6 309.8h0M199.8 310.6h0M199.2 311.0h0M130.0 311.0h0M214.1 310.4h0M205.3 309.3h0M135.3 309.5h0M181.4 310.1h0M163.1 310.6h0M132.0 309.7h0M138.0 310.6h0M138.0 309.6h0M183.2 310.4h0M173.5 310.0h0M212.2 310.7h0M383.8 311.5h0M388.7 311.5h0M392.5 311.5h0M410.1 311.5h0M435.1 311.5h0M448.7 311.5h0M453.7 311.5h0M461.1 311.5h0M468.5 311.5h0M479.9 311.5h0M484.3 311.5h0M488.9 311.5h0M503.1 311.5h0M507.4 311.5h0M511.2 311.5h0" stroke-width="4.7"/>
</g>
<rect x="64.2" y="6.6" width="149.3" height="43.4" fill="#fff" stroke="#000" stroke-width="1"/>
<rect x="64.2" y="6.6" width="482.00000000000006" height="314.2" fill="none" stroke="#000" stroke-width="1.55"/>
<circle cx="85.1" cy="18.1" r="2.28" fill="#00aa00"/>
<circle cx="85.1" cy="38.5" r="2.28" fill="#ff0000"/>
<text x="108.00" y="23.10" font-size="17.20" text-anchor="start" textLength="86.60" lengthAdjust="spacingAndGlyphs">Normal data</text>
<text x="108.00" y="43.40" font-size="17.20" text-anchor="start" textLength="103.60" lengthAdjust="spacingAndGlyphs">Abnormal data</text>
<text x="75.20" y="341.50" font-size="16.40" text-anchor="middle">0</text><text x="187.38" y="341.50" font-size="16.40" text-anchor="middle">5</text><text x="299.55" y="341.50" font-size="16.40" text-anchor="middle">10</text><text x="411.72" y="341.50" font-size="16.40" text-anchor="middle">15</text><text x="523.90" y="341.50" font-size="16.40" text-anchor="middle">20</text><text x="55.20" y="315.90" font-size="16.40" text-anchor="end">0</text><text x="55.20" y="220.60" font-size="16.40" text-anchor="end" textLength="22.60" lengthAdjust="spacingAndGlyphs">500</text><text x="55.20" y="125.30" font-size="16.40" text-anchor="end" textLength="35.20" lengthAdjust="spacingAndGlyphs">1,000</text><text x="55.20" y="30.00" font-size="16.40" text-anchor="end" textLength="35.20" lengthAdjust="spacingAndGlyphs">1,500</text>
<text x="304.70" y="360.70" font-size="22.00" text-anchor="middle" textLength="175.00" lengthAdjust="spacingAndGlyphs">Wind speed (m/s)</text>
<text transform="translate(23.7 222.7) rotate(-90)" font-size="22" text-anchor="middle" textLength="171" lengthAdjust="spacingAndGlyphs">Active power (kW)</text>
</svg>
</body>
</html>
